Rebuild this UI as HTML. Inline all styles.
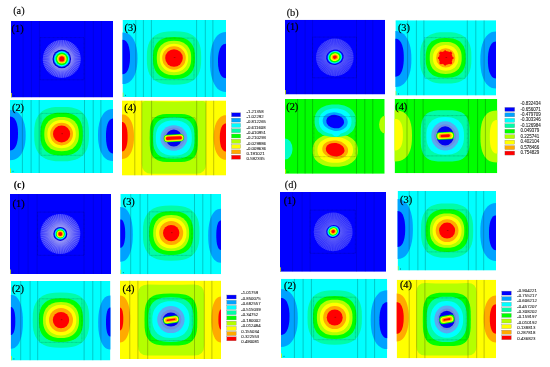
<!DOCTYPE html>
<html><head><meta charset="utf-8"><title>figure</title>
<style>html,body{margin:0;padding:0;background:#fff;}svg{display:block}</style></head>
<body><svg width="550" height="367" viewBox="0 0 550 367">
<defs><filter id="bl" x="-2%" y="-2%" width="104%" height="104%"><feGaussianBlur stdDeviation="0.45"/></filter><filter id="bl2" x="-2%" y="-2%" width="104%" height="104%"><feGaussianBlur stdDeviation="0.2"/></filter>
<clipPath id="c1"><rect x="11" y="21" width="102.00" height="76.50"/></clipPath>
<radialGradient id="g2" gradientUnits="userSpaceOnUse" cx="61.8" cy="58.9" r="19"><stop offset="0.49" stop-color="#7878ee"/><stop offset="0.7" stop-color="#4848f8"/><stop offset="1" stop-color="#2828fe"/></radialGradient>
<clipPath id="c3"><rect x="122.5" y="20" width="103.50" height="77.00"/></clipPath>
<clipPath id="c4"><rect x="10" y="100" width="103.00" height="73.00"/></clipPath>
<clipPath id="c5"><rect x="122" y="100.4" width="104.00" height="75.20"/></clipPath>
<clipPath id="c6"><rect x="285" y="19.8" width="100.00" height="74.70"/></clipPath>
<radialGradient id="g7" gradientUnits="userSpaceOnUse" cx="334.8" cy="57.4" r="18.8"><stop offset="0.40" stop-color="#4141f7"/><stop offset="0.7" stop-color="#3333fa"/><stop offset="1" stop-color="#2929fc"/></radialGradient>
<clipPath id="c8"><rect x="395.4" y="20.2" width="100.60" height="75.40"/></clipPath>
<clipPath id="c9"><rect x="285" y="99" width="99.70" height="74.80"/></clipPath>
<clipPath id="c10"><rect x="394.6" y="99" width="102.70" height="74.20"/></clipPath>
<clipPath id="c11"><rect x="10" y="194" width="101.00" height="80.00"/></clipPath>
<radialGradient id="g12" gradientUnits="userSpaceOnUse" cx="60.3" cy="233.9" r="20"><stop offset="0.35" stop-color="#7878ee"/><stop offset="0.7" stop-color="#4848f8"/><stop offset="1" stop-color="#2828fe"/></radialGradient>
<clipPath id="c13"><rect x="120.3" y="194" width="100.70" height="80.20"/></clipPath>
<clipPath id="c14"><rect x="10.9" y="281" width="99.50" height="79.50"/></clipPath>
<clipPath id="c15"><rect x="120" y="280.6" width="101.00" height="78.40"/></clipPath>
<clipPath id="c16"><rect x="280" y="192" width="106.00" height="79.80"/></clipPath>
<radialGradient id="g17" gradientUnits="userSpaceOnUse" cx="333.2" cy="231.9" r="19.4"><stop offset="0.33" stop-color="#3f3ff8"/><stop offset="0.7" stop-color="#3232fa"/><stop offset="1" stop-color="#2929fc"/></radialGradient>
<clipPath id="c18"><rect x="397.6" y="191" width="98.40" height="79.60"/></clipPath>
<clipPath id="c19"><rect x="281" y="278.8" width="106.20" height="79.20"/></clipPath>
<clipPath id="c20"><rect x="396.7" y="279.7" width="99.30" height="78.60"/></clipPath></defs>
<rect width="550" height="367" fill="#fff"/>
<g filter="url(#bl)">
<text x="13.20" y="14.00" font-size="10.3" font-weight="normal" font-family="'Liberation Serif',serif" fill="#000" stroke="#000" stroke-width="0.12">(a)</text>
<g clip-path="url(#c1)">
<rect x="11" y="21" width="102.00" height="76.50" fill="#0000ff"/>
<path d="M23.10 21V97.5 M31.40 21V97.5 M39.40 21V97.5 M84.80 21V97.5 M93.30 21V97.5 M101.40 21V97.5" stroke="#000070" stroke-width="0.5" stroke-opacity="0.4" fill="none"/>
<rect x="40.10" y="37.60" width="43.90" height="42.20" fill="none" stroke="#000050" stroke-width="0.5" stroke-opacity="0.6" stroke-dasharray="0.8 0.5"/>
<circle cx="61.8" cy="58.9" r="19" fill="url(#g2)"/>
<path d="M69.24 58.90L80.80 58.90M69.20 59.63L80.71 60.76M69.10 60.35L80.43 62.61M68.92 61.06L79.98 64.42M68.67 61.75L79.35 66.17M68.36 62.41L78.56 67.86M67.99 63.03L77.60 69.46M67.55 63.62L76.49 70.95M67.06 64.16L75.24 72.34M66.52 64.65L73.85 73.59M65.93 65.09L72.36 74.70M65.31 65.46L70.76 75.66M64.65 65.77L69.07 76.45M63.96 66.02L67.32 77.08M63.25 66.20L65.51 77.53M62.53 66.30L63.66 77.81M61.80 66.34L61.80 77.90M61.07 66.30L59.94 77.81M60.35 66.20L58.09 77.53M59.64 66.02L56.28 77.08M58.95 65.77L54.53 76.45M58.29 65.46L52.84 75.66M57.67 65.09L51.24 74.70M57.08 64.65L49.75 73.59M56.54 64.16L48.36 72.34M56.05 63.62L47.11 70.95M55.61 63.03L46.00 69.46M55.24 62.41L45.04 67.86M54.93 61.75L44.25 66.17M54.68 61.06L43.62 64.42M54.50 60.35L43.17 62.61M54.40 59.63L42.89 60.76M54.36 58.90L42.80 58.90M54.40 58.17L42.89 57.04M54.50 57.45L43.17 55.19M54.68 56.74L43.62 53.38M54.93 56.05L44.25 51.63M55.24 55.39L45.04 49.94M55.61 54.77L46.00 48.34M56.05 54.18L47.11 46.85M56.54 53.64L48.36 45.46M57.08 53.15L49.75 44.21M57.67 52.71L51.24 43.10M58.29 52.34L52.84 42.14M58.95 52.03L54.53 41.35M59.64 51.78L56.28 40.72M60.35 51.60L58.09 40.27M61.07 51.50L59.94 39.99M61.80 51.46L61.80 39.90M62.53 51.50L63.66 39.99M63.25 51.60L65.51 40.27M63.96 51.78L67.32 40.72M64.65 52.03L69.07 41.35M65.31 52.34L70.76 42.14M65.93 52.71L72.36 43.10M66.52 53.15L73.85 44.21M67.06 53.64L75.24 45.46M67.55 54.18L76.49 46.85M67.99 54.77L77.60 48.34M68.36 55.39L78.56 49.94M68.67 56.05L79.35 51.63M68.92 56.74L79.98 53.38M69.10 57.45L80.43 55.19M69.20 58.17L80.71 57.04" stroke="#dcdcff" stroke-width="0.4" stroke-opacity="0.65" fill="none"/>
<ellipse cx="61.80" cy="58.90" rx="9.30" ry="9.30" fill="#0000d8" />
<ellipse cx="61.80" cy="58.90" rx="8.00" ry="8.00" fill="#00a2ff" />
<ellipse cx="61.80" cy="58.90" rx="7.30" ry="7.30" fill="#00ffff" />
<ellipse cx="61.80" cy="58.90" rx="6.30" ry="6.30" fill="#00ff00" />
<ellipse cx="61.80" cy="58.90" rx="4.70" ry="4.70" fill="#ffff00" />
<ellipse cx="61.80" cy="58.90" rx="3.60" ry="3.60" fill="#ffaa00" />
<ellipse cx="61.80" cy="58.90" rx="2.60" ry="2.60" fill="#ff0000" />
<rect x="11" y="93.00" width="0.9" height="4.5" fill="#d8f000" opacity="0.85"/>
<rect x="13.60" y="95.30" width="0.8" height="1.2" fill="#002040" opacity="0.6"/>
</g>
<text x="11.60" y="31.50" font-size="10.3" font-weight="normal" font-family="'Liberation Serif',serif" fill="#000" stroke="#000" stroke-width="0.2">(1)</text>
<g clip-path="url(#c3)">
<rect x="122.5" y="20" width="103.50" height="77.00" fill="#00ffff"/>
<polygon points="201.20,58.00 201.03,64.07 200.52,67.99 199.68,71.28 198.50,74.13 196.99,76.61 195.14,78.75 192.96,80.56 190.43,82.05 187.53,83.21 184.18,84.04 180.19,84.53 174.00,84.70 167.81,84.53 163.82,84.04 160.47,83.21 157.57,82.05 155.04,80.56 152.86,78.75 151.01,76.61 149.50,74.13 148.32,71.28 147.48,67.99 146.97,64.07 146.80,58.00 146.97,51.93 147.48,48.01 148.32,44.72 149.50,41.87 151.01,39.39 152.86,37.25 155.04,35.44 157.57,33.95 160.47,32.79 163.82,31.96 167.81,31.47 174.00,31.30 180.19,31.47 184.18,31.96 187.53,32.79 190.43,33.95 192.96,35.44 195.14,37.25 196.99,39.39 198.50,41.87 199.68,44.72 200.52,48.01 201.03,51.93" fill="#00fca8" />
<polygon points="195.00,58.00 194.86,62.39 194.45,65.42 193.76,68.03 192.80,70.32 191.57,72.34 190.09,74.09 188.34,75.57 186.32,76.80 184.03,77.76 181.42,78.45 178.39,78.86 174.00,79.00 169.61,78.86 166.58,78.45 163.97,77.76 161.68,76.80 159.66,75.57 157.91,74.09 156.43,72.34 155.20,70.32 154.24,68.03 153.55,65.42 153.14,62.39 153.00,58.00 153.14,53.61 153.55,50.58 154.24,47.97 155.20,45.68 156.43,43.66 157.91,41.91 159.66,40.43 161.68,39.20 163.97,38.24 166.58,37.55 169.61,37.14 174.00,37.00 178.39,37.14 181.42,37.55 184.03,38.24 186.32,39.20 188.34,40.43 190.09,41.91 191.57,43.66 192.80,45.68 193.76,47.97 194.45,50.58 194.86,53.61" fill="#00ff00" />
<polygon points="191.20,58.00 191.07,61.04 190.70,63.44 190.08,65.59 189.22,67.54 188.12,69.27 186.81,70.81 185.27,72.12 183.54,73.22 181.59,74.08 179.44,74.70 177.04,75.07 174.00,75.20 170.96,75.07 168.56,74.70 166.41,74.08 164.46,73.22 162.73,72.12 161.19,70.81 159.88,69.27 158.78,67.54 157.92,65.59 157.30,63.44 156.93,61.04 156.80,58.00 156.93,54.96 157.30,52.56 157.92,50.41 158.78,48.46 159.88,46.73 161.19,45.19 162.73,43.88 164.46,42.78 166.41,41.92 168.56,41.30 170.96,40.93 174.00,40.80 177.04,40.93 179.44,41.30 181.59,41.92 183.54,42.78 185.27,43.88 186.81,45.19 188.12,46.73 189.22,48.46 190.08,50.41 190.70,52.56 191.07,54.96" fill="#b4ff00" />
<polygon points="188.20,58.00 188.09,60.14 187.75,62.04 187.19,63.81 186.42,65.45 185.45,66.95 184.29,68.29 182.95,69.45 181.45,70.42 179.81,71.19 178.04,71.75 176.14,72.09 174.00,72.20 171.86,72.09 169.96,71.75 168.19,71.19 166.55,70.42 165.05,69.45 163.71,68.29 162.55,66.95 161.58,65.45 160.81,63.81 160.25,62.04 159.91,60.14 159.80,58.00 159.91,55.86 160.25,53.96 160.81,52.19 161.58,50.55 162.55,49.05 163.71,47.71 165.05,46.55 166.55,45.58 168.19,44.81 169.96,44.25 171.86,43.91 174.00,43.80 176.14,43.91 178.04,44.25 179.81,44.81 181.45,45.58 182.95,46.55 184.29,47.71 185.45,49.05 186.42,50.55 187.19,52.19 187.75,53.96 188.09,55.86" fill="#ffff00" />
<ellipse cx="174.00" cy="58.00" rx="11.80" ry="11.80" fill="#ffaa00" />
<ellipse cx="174.00" cy="58.00" rx="8.80" ry="8.80" fill="#ff0000" />
<polygon points="137.50,58.30 137.39,62.52 137.04,66.06 136.48,69.29 135.70,72.23 134.71,74.90 133.52,77.26 132.15,79.30 130.60,81.00 128.89,82.35 127.01,83.32 124.95,83.90 122.50,84.10 120.05,83.90 117.99,83.32 116.11,82.35 114.40,81.00 112.85,79.30 111.48,77.26 110.29,74.90 109.30,72.23 108.52,69.29 107.96,66.06 107.61,62.52 107.50,58.30 107.61,54.08 107.96,50.54 108.52,47.31 109.30,44.37 110.29,41.70 111.48,39.34 112.85,37.30 114.40,35.60 116.11,34.25 117.99,33.28 120.05,32.70 122.50,32.50 124.95,32.70 127.01,33.28 128.89,34.25 130.60,35.60 132.15,37.30 133.52,39.34 134.71,41.70 135.70,44.37 136.48,47.31 137.04,50.54 137.39,54.08" fill="#00a2ff" />
<polygon points="130.00,57.00 129.94,59.82 129.77,62.17 129.49,64.32 129.10,66.29 128.61,68.06 128.01,69.64 127.32,71.00 126.55,72.14 125.69,73.03 124.76,73.68 123.73,74.07 122.50,74.20 121.27,74.07 120.24,73.68 119.31,73.03 118.45,72.14 117.68,71.00 116.99,69.64 116.39,68.06 115.90,66.29 115.51,64.32 115.23,62.17 115.06,59.82 115.00,57.00 115.06,54.18 115.23,51.83 115.51,49.68 115.90,47.71 116.39,45.94 116.99,44.36 117.68,43.00 118.45,41.86 119.31,40.97 120.24,40.32 121.27,39.93 122.50,39.80 123.73,39.93 124.76,40.32 125.69,40.97 126.55,41.86 127.32,43.00 128.01,44.36 128.61,45.94 129.10,47.71 129.49,49.68 129.77,51.83 129.94,54.18" fill="#0000ff" />
<polygon points="242.00,62.00 241.88,66.91 241.51,71.02 240.91,74.77 240.08,78.20 239.02,81.30 237.76,84.05 236.29,86.42 234.64,88.40 232.81,89.96 230.81,91.09 228.62,91.77 226.00,92.00 223.38,91.77 221.19,91.09 219.19,89.96 217.36,88.40 215.71,86.42 214.24,84.05 212.98,81.30 211.92,78.20 211.09,74.77 210.49,71.02 210.12,66.91 210.00,62.00 210.12,57.09 210.49,52.98 211.09,49.23 211.92,45.80 212.98,42.70 214.24,39.95 215.71,37.58 217.36,35.60 219.19,34.04 221.19,32.91 223.38,32.23 226.00,32.00 228.62,32.23 230.81,32.91 232.81,34.04 234.64,35.60 236.29,37.58 237.76,39.95 239.02,42.70 240.08,45.80 240.91,49.23 241.51,52.98 241.88,57.09" fill="#00a2ff" />
<polygon points="234.00,61.00 233.94,63.82 233.76,66.17 233.46,68.32 233.04,70.29 232.51,72.06 231.88,73.64 231.15,75.00 230.32,76.14 229.41,77.03 228.41,77.68 227.31,78.07 226.00,78.20 224.69,78.07 223.59,77.68 222.59,77.03 221.68,76.14 220.85,75.00 220.12,73.64 219.49,72.06 218.96,70.29 218.54,68.32 218.24,66.17 218.06,63.82 218.00,61.00 218.06,58.18 218.24,55.83 218.54,53.68 218.96,51.71 219.49,49.94 220.12,48.36 220.85,47.00 221.68,45.86 222.59,44.97 223.59,44.32 224.69,43.93 226.00,43.80 227.31,43.93 228.41,44.32 229.41,44.97 230.32,45.86 231.15,47.00 231.88,48.36 232.51,49.94 233.04,51.71 233.46,53.68 233.76,55.83 233.94,58.18" fill="#0000ff" />
<path d="M135.80 20V97 M143.40 20V97 M151.40 20V97 M196.60 20V97 M205.30 20V97 M212.90 20V97" stroke="#004848" stroke-width="0.6" stroke-opacity="0.5" fill="none"/>
<rect x="153.20" y="38.10" width="40.80" height="41.60" fill="none" stroke="#003838" stroke-width="0.5" stroke-opacity="0.5" stroke-dasharray="0.8 0.5"/>
<rect x="173.80" y="57.40" width="1.6" height="0.6" fill="#500" opacity="0.7"/>
<rect x="122.5" y="92.50" width="0.9" height="4.5" fill="#d8f000" opacity="0.85"/>
<rect x="125.10" y="94.80" width="0.8" height="1.2" fill="#002040" opacity="0.6"/>
</g>
<text x="124.50" y="30.80" font-size="10.3" font-weight="normal" font-family="'Liberation Serif',serif" fill="#000" stroke="#000" stroke-width="0.2">(3)</text>
<g clip-path="url(#c4)">
<rect x="10" y="100" width="103.00" height="73.00" fill="#00ffff"/>
<polygon points="89.00,134.10 88.83,140.29 88.32,144.28 87.47,147.63 86.28,150.53 84.75,153.06 82.90,155.24 80.70,157.09 78.15,158.60 75.23,159.78 71.85,160.62 67.83,161.13 61.60,161.30 55.37,161.13 51.35,160.62 47.97,159.78 45.05,158.60 42.50,157.09 40.30,155.24 38.45,153.06 36.92,150.53 35.73,147.63 34.88,144.28 34.37,140.29 34.20,134.10 34.37,127.91 34.88,123.92 35.73,120.57 36.92,117.67 38.45,115.14 40.30,112.96 42.50,111.11 45.05,109.60 47.97,108.42 51.35,107.58 55.37,107.07 61.60,106.90 67.83,107.07 71.85,107.58 75.23,108.42 78.15,109.60 80.70,111.11 82.90,112.96 84.75,115.14 86.28,117.67 87.47,120.57 88.32,123.92 88.83,127.91" fill="#00fca8" />
<polygon points="82.80,134.10 82.66,138.57 82.24,141.67 81.55,144.32 80.58,146.66 79.34,148.71 77.84,150.49 76.07,152.01 74.04,153.26 71.73,154.24 69.10,154.94 66.03,155.36 61.60,155.50 57.17,155.36 54.10,154.94 51.47,154.24 49.16,153.26 47.13,152.01 45.36,150.49 43.86,148.71 42.62,146.66 41.65,144.32 40.96,141.67 40.54,138.57 40.40,134.10 40.54,129.63 40.96,126.53 41.65,123.88 42.62,121.54 43.86,119.49 45.36,117.71 47.13,116.19 49.16,114.94 51.47,113.96 54.10,113.26 57.17,112.84 61.60,112.70 66.03,112.84 69.10,113.26 71.73,113.96 74.04,114.94 76.07,116.19 77.84,117.71 79.34,119.49 80.58,121.54 81.55,123.88 82.24,126.53 82.66,129.63" fill="#00ff00" />
<polygon points="78.90,134.10 78.77,137.12 78.40,139.51 77.77,141.65 76.91,143.58 75.81,145.31 74.48,146.83 72.94,148.14 71.19,149.23 69.24,150.09 67.08,150.70 64.66,151.08 61.60,151.20 58.54,151.08 56.12,150.70 53.96,150.09 52.01,149.23 50.26,148.14 48.72,146.83 47.39,145.31 46.29,143.58 45.43,141.65 44.80,139.51 44.43,137.12 44.30,134.10 44.43,131.08 44.80,128.69 45.43,126.55 46.29,124.62 47.39,122.89 48.72,121.37 50.26,120.06 52.01,118.97 53.96,118.11 56.12,117.50 58.54,117.12 61.60,117.00 64.66,117.12 67.08,117.50 69.24,118.11 71.19,118.97 72.94,120.06 74.48,121.37 75.81,122.89 76.91,124.62 77.77,126.55 78.40,128.69 78.77,131.08" fill="#b4ff00" />
<polygon points="75.80,134.10 75.69,136.22 75.35,138.11 74.79,139.87 74.02,141.50 73.05,142.99 71.89,144.31 70.55,145.47 69.05,146.43 67.41,147.20 65.64,147.75 63.74,148.09 61.60,148.20 59.46,148.09 57.56,147.75 55.79,147.20 54.15,146.43 52.65,145.47 51.31,144.31 50.15,142.99 49.18,141.50 48.41,139.87 47.85,138.11 47.51,136.22 47.40,134.10 47.51,131.98 47.85,130.09 48.41,128.33 49.18,126.70 50.15,125.21 51.31,123.89 52.65,122.73 54.15,121.77 55.79,121.00 57.56,120.45 59.46,120.11 61.60,120.00 63.74,120.11 65.64,120.45 67.41,121.00 69.05,121.77 70.55,122.73 71.89,123.89 73.05,125.21 74.02,126.70 74.79,128.33 75.35,130.09 75.69,131.98" fill="#ffff00" />
<ellipse cx="61.60" cy="134.10" rx="11.40" ry="11.30" fill="#ffaa00" />
<ellipse cx="61.60" cy="134.10" rx="8.60" ry="8.50" fill="#ff0000" />
<polygon points="25.70,135.20 25.58,139.31 25.22,142.75 24.63,145.89 23.82,148.75 22.78,151.35 21.54,153.65 20.10,155.63 18.48,157.29 16.68,158.59 14.72,159.54 12.57,160.11 10.00,160.30 7.43,160.11 5.28,159.54 3.32,158.59 1.52,157.29 -0.10,155.63 -1.54,153.65 -2.78,151.35 -3.82,148.75 -4.63,145.89 -5.22,142.75 -5.58,139.31 -5.70,135.20 -5.58,131.09 -5.22,127.65 -4.63,124.51 -3.82,121.65 -2.78,119.05 -1.54,116.75 -0.10,114.77 1.52,113.11 3.32,111.81 5.28,110.86 7.43,110.29 10.00,110.10 12.57,110.29 14.72,110.86 16.68,111.81 18.48,113.11 20.10,114.77 21.54,116.75 22.78,119.05 23.82,121.65 24.63,124.51 25.22,127.65 25.58,131.09" fill="#00a2ff" />
<polygon points="18.00,133.50 17.94,136.28 17.76,138.61 17.46,140.74 17.04,142.68 16.51,144.44 15.88,145.99 15.15,147.34 14.32,148.46 13.41,149.34 12.41,149.98 11.31,150.37 10.00,150.50 8.69,150.37 7.59,149.98 6.59,149.34 5.68,148.46 4.85,147.34 4.12,145.99 3.49,144.44 2.96,142.68 2.54,140.74 2.24,138.61 2.06,136.28 2.00,133.50 2.06,130.72 2.24,128.39 2.54,126.26 2.96,124.32 3.49,122.56 4.12,121.01 4.85,119.66 5.68,118.54 6.59,117.66 7.59,117.02 8.69,116.63 10.00,116.50 11.31,116.63 12.41,117.02 13.41,117.66 14.32,118.54 15.15,119.66 15.88,121.01 16.51,122.56 17.04,124.32 17.46,126.26 17.76,128.39 17.94,130.72" fill="#0000ff" />
<polygon points="128.00,135.00 127.89,139.26 127.54,142.82 126.98,146.07 126.20,149.04 125.21,151.73 124.02,154.11 122.65,156.16 121.10,157.88 119.39,159.23 117.51,160.21 115.45,160.80 113.00,161.00 110.55,160.80 108.49,160.21 106.61,159.23 104.90,157.88 103.35,156.16 101.98,154.11 100.79,151.73 99.80,149.04 99.02,146.07 98.46,142.82 98.11,139.26 98.00,135.00 98.11,130.74 98.46,127.18 99.02,123.93 99.80,120.96 100.79,118.27 101.98,115.89 103.35,113.84 104.90,112.12 106.61,110.77 108.49,109.79 110.55,109.20 113.00,109.00 115.45,109.20 117.51,109.79 119.39,110.77 121.10,112.12 122.65,113.84 124.02,115.89 125.21,118.27 126.20,120.96 126.98,123.93 127.54,127.18 127.89,130.74" fill="#00a2ff" />
<polygon points="120.00,136.00 119.95,138.85 119.79,141.23 119.52,143.41 119.16,145.40 118.70,147.19 118.14,148.79 117.50,150.16 116.78,151.31 115.98,152.22 115.11,152.87 114.15,153.27 113.00,153.40 111.85,153.27 110.89,152.87 110.02,152.22 109.22,151.31 108.50,150.16 107.86,148.79 107.30,147.19 106.84,145.40 106.48,143.41 106.21,141.23 106.05,138.85 106.00,136.00 106.05,133.15 106.21,130.77 106.48,128.59 106.84,126.60 107.30,124.81 107.86,123.21 108.50,121.84 109.22,120.69 110.02,119.78 110.89,119.13 111.85,118.73 113.00,118.60 114.15,118.73 115.11,119.13 115.98,119.78 116.78,120.69 117.50,121.84 118.14,123.21 118.70,124.81 119.16,126.60 119.52,128.59 119.79,130.77 119.95,133.15" fill="#0000ff" />
<path d="M22.40 100V173 M31.10 100V173 M39.20 100V173 M84.50 100V173 M93.20 100V173 M100.90 100V173" stroke="#004848" stroke-width="0.6" stroke-opacity="0.5" fill="none"/>
<rect x="40.90" y="113.40" width="42.10" height="41.90" fill="none" stroke="#003838" stroke-width="0.5" stroke-opacity="0.5" stroke-dasharray="0.8 0.5"/>
<rect x="61.40" y="133.50" width="1.6" height="0.6" fill="#500" opacity="0.7"/>
<rect x="10" y="168.50" width="0.9" height="4.5" fill="#d8f000" opacity="0.85"/>
<rect x="12.60" y="170.80" width="0.8" height="1.2" fill="#002040" opacity="0.6"/>
</g>
<text x="12.00" y="110.60" font-size="10.3" font-weight="normal" font-family="'Liberation Serif',serif" fill="#000" stroke="#000" stroke-width="0.2">(2)</text>
<g clip-path="url(#c5)">
<rect x="122" y="100.4" width="104.00" height="75.20" fill="#ffff00"/>
<path d="M145.30 100.90Q173.90 102.50 202.50 100.90Q206.00 100.90 206.00 104.40L206.00 163.70Q206.00 173.70 196.00 173.70L151.80 173.70Q141.80 173.70 141.80 163.70L141.80 104.40Q141.80 100.90 145.30 100.90Z" fill="#b4ff00"/>
<polygon points="197.90,138.00 197.78,145.53 197.43,149.13 196.83,151.92 196.00,154.22 194.91,156.15 193.57,157.77 191.95,159.11 190.02,160.20 187.72,161.03 184.93,161.63 181.33,161.98 173.80,162.10 166.27,161.98 162.67,161.63 159.88,161.03 157.58,160.20 155.65,159.11 154.03,157.77 152.69,156.15 151.60,154.22 150.77,151.92 150.17,149.13 149.82,145.53 149.70,138.00 149.82,130.47 150.17,126.87 150.77,124.08 151.60,121.78 152.69,119.85 154.03,118.23 155.65,116.89 157.58,115.80 159.88,114.97 162.67,114.37 166.27,114.02 173.80,113.90 181.33,114.02 184.93,114.37 187.72,114.97 190.02,115.80 191.95,116.89 193.57,118.23 194.91,119.85 196.00,121.78 196.83,124.08 197.43,126.87 197.78,130.47" fill="#00ff00" />
<polygon points="194.60,138.00 194.47,142.83 194.09,145.88 193.46,148.42 192.57,150.62 191.43,152.52 190.04,154.16 188.39,155.55 186.48,156.68 184.27,157.56 181.72,158.19 178.66,158.57 173.80,158.70 168.94,158.57 165.88,158.19 163.33,157.56 161.12,156.68 159.21,155.55 157.56,154.16 156.17,152.52 155.03,150.62 154.14,148.42 153.51,145.88 153.13,142.83 153.00,138.00 153.13,133.17 153.51,130.12 154.14,127.58 155.03,125.38 156.17,123.48 157.56,121.84 159.21,120.45 161.12,119.32 163.33,118.44 165.88,117.81 168.94,117.43 173.80,117.30 178.66,117.43 181.72,117.81 184.27,118.44 186.48,119.32 188.39,120.45 190.04,121.84 191.43,123.48 192.57,125.38 193.46,127.58 194.09,130.12 194.47,133.17" fill="#00fca8" />
<polygon points="191.80,138.00 191.67,141.23 191.29,143.71 190.65,145.90 189.77,147.88 188.64,149.64 187.28,151.19 185.70,152.51 183.90,153.61 181.88,154.48 179.64,155.10 177.10,155.47 173.80,155.60 170.50,155.47 167.96,155.10 165.72,154.48 163.70,153.61 161.90,152.51 160.32,151.19 158.96,149.64 157.83,147.88 156.95,145.90 156.31,143.71 155.93,141.23 155.80,138.00 155.93,134.77 156.31,132.29 156.95,130.10 157.83,128.12 158.96,126.36 160.32,124.81 161.90,123.49 163.70,122.39 165.72,121.52 167.96,120.90 170.50,120.53 173.80,120.40 177.10,120.53 179.64,120.90 181.88,121.52 183.90,122.39 185.70,123.49 187.28,124.81 188.64,126.36 189.77,128.12 190.65,130.10 191.29,132.29 191.67,134.77" fill="#00ffff" />
<ellipse cx="173.80" cy="138.00" rx="13.50" ry="12.70" fill="#5aaaf0" />
<ellipse cx="173.80" cy="138.00" rx="11.00" ry="10.60" fill="#6e8ee0" />
<ellipse cx="173.80" cy="138.00" rx="8.20" ry="8.60" fill="#0000f0" />
<polygon points="134.00,136.70 133.91,140.20 133.63,143.23 133.17,146.01 132.53,148.58 131.72,150.90 130.76,152.97 129.64,154.77 128.39,156.27 127.01,157.45 125.51,158.31 123.88,158.83 122.00,159.00 120.12,158.83 118.49,158.31 116.99,157.45 115.61,156.27 114.36,154.77 113.24,152.97 112.28,150.90 111.47,148.58 110.83,146.01 110.37,143.23 110.09,140.20 110.00,136.70 110.09,133.20 110.37,130.17 110.83,127.39 111.47,124.82 112.28,122.50 113.24,120.43 114.36,118.63 115.61,117.13 116.99,115.95 118.49,115.09 120.12,114.57 122.00,114.40 123.88,114.57 125.51,115.09 127.01,115.95 128.39,117.13 129.64,118.63 130.76,120.43 131.72,122.50 132.53,124.82 133.17,127.39 133.63,130.17 133.91,133.20" fill="#ffaa00" />
<polygon points="127.60,136.70 127.56,139.01 127.43,141.00 127.21,142.84 126.91,144.53 126.54,146.06 126.09,147.43 125.57,148.61 124.98,149.60 124.34,150.38 123.64,150.94 122.88,151.29 122.00,151.40 121.12,151.29 120.36,150.94 119.66,150.38 119.02,149.60 118.43,148.61 117.91,147.43 117.46,146.06 117.09,144.53 116.79,142.84 116.57,141.00 116.44,139.01 116.40,136.70 116.44,134.39 116.57,132.40 116.79,130.56 117.09,128.87 117.46,127.34 117.91,125.97 118.43,124.79 119.02,123.80 119.66,123.02 120.36,122.46 121.12,122.11 122.00,122.00 122.88,122.11 123.64,122.46 124.34,123.02 124.98,123.80 125.57,124.79 126.09,125.97 126.54,127.34 126.91,128.87 127.21,130.56 127.43,132.40 127.56,134.39" fill="#ff0000" />
<polygon points="238.30,137.50 238.20,141.00 237.92,144.03 237.45,146.81 236.79,149.38 235.97,151.70 234.98,153.77 233.83,155.57 232.55,157.07 231.14,158.25 229.60,159.11 227.93,159.63 226.00,159.80 224.07,159.63 222.40,159.11 220.86,158.25 219.45,157.07 218.17,155.57 217.02,153.77 216.03,151.70 215.21,149.38 214.55,146.81 214.08,144.03 213.80,141.00 213.70,137.50 213.80,134.00 214.08,130.97 214.55,128.19 215.21,125.62 216.03,123.30 217.02,121.23 218.17,119.43 219.45,117.93 220.86,116.75 222.40,115.89 224.07,115.37 226.00,115.20 227.93,115.37 229.60,115.89 231.14,116.75 232.55,117.93 233.83,119.43 234.98,121.23 235.97,123.30 236.79,125.62 237.45,128.19 237.92,130.97 238.20,134.00" fill="#ffaa00" />
<polygon points="232.20,137.50 232.15,139.70 232.01,141.60 231.77,143.35 231.44,144.96 231.02,146.42 230.52,147.72 229.95,148.84 229.30,149.78 228.59,150.53 227.81,151.07 226.97,151.39 226.00,151.50 225.03,151.39 224.19,151.07 223.41,150.53 222.70,149.78 222.05,148.84 221.48,147.72 220.98,146.42 220.56,144.96 220.23,143.35 219.99,141.60 219.85,139.70 219.80,137.50 219.85,135.30 219.99,133.40 220.23,131.65 220.56,130.04 220.98,128.58 221.48,127.28 222.05,126.16 222.70,125.22 223.41,124.47 224.19,123.93 225.03,123.61 226.00,123.50 226.97,123.61 227.81,123.93 228.59,124.47 229.30,125.22 229.95,126.16 230.52,127.28 231.02,128.58 231.44,130.04 231.77,131.65 232.01,133.40 232.15,135.30" fill="#ff0000" />
<path d="M134.80 100.4V175.6 M141.80 100.4V175.6 M151.60 100.4V175.6 M196.70 100.4V175.6 M206.00 100.4V175.6 M213.70 100.4V175.6" stroke="#3a3a00" stroke-width="0.6" stroke-opacity="0.5" fill="none"/>
<rect x="152.70" y="117.60" width="42.50" height="40.30" fill="none" stroke="#303000" stroke-width="0.5" stroke-opacity="0.55" stroke-dasharray="0.8 0.5"/>
<rect x="163.70" y="134.40" width="20.40" height="7.40" rx="3.70" fill="#00ff00" transform="rotate(-3 173.9 138.1)"/>
<rect x="164.50" y="135.10" width="18.80" height="6.00" rx="3.00" fill="#ffff00" transform="rotate(-3 173.9 138.1)"/>
<rect x="165.20" y="135.80" width="17.40" height="4.60" rx="2.30" fill="#ffaa00" transform="rotate(-3 173.9 138.1)"/>
<rect x="165.95" y="136.50" width="15.90" height="3.20" rx="1.60" fill="#ff0000" transform="rotate(-3 173.9 138.1)"/>
</g>
<text x="124.30" y="111.40" font-size="10.3" font-weight="normal" font-family="'Liberation Serif',serif" fill="#000" stroke="#000" stroke-width="0.2">(4)</text>
<rect x="231.5" y="112.80" width="9.10" height="4.0" fill="#0000ff" stroke="#808080" stroke-width="0.3"/>
<rect x="231.5" y="118.10" width="9.10" height="4.0" fill="#00a2ff" stroke="#808080" stroke-width="0.3"/>
<rect x="231.5" y="123.40" width="9.10" height="4.0" fill="#00ffff" stroke="#808080" stroke-width="0.3"/>
<rect x="231.5" y="128.70" width="9.10" height="4.0" fill="#00fca8" stroke="#808080" stroke-width="0.3"/>
<rect x="231.5" y="134.00" width="9.10" height="4.0" fill="#00ff00" stroke="#808080" stroke-width="0.3"/>
<rect x="231.5" y="139.30" width="9.10" height="4.0" fill="#b4ff00" stroke="#808080" stroke-width="0.3"/>
<rect x="231.5" y="144.60" width="9.10" height="4.0" fill="#ffff00" stroke="#808080" stroke-width="0.3"/>
<rect x="231.5" y="149.90" width="9.10" height="4.0" fill="#ffaa00" stroke="#808080" stroke-width="0.3"/>
<rect x="231.5" y="155.20" width="9.10" height="4.0" fill="#ff0000" stroke="#808080" stroke-width="0.3"/>
<text x="286.70" y="15.70" font-size="10.3" font-weight="normal" font-family="'Liberation Serif',serif" fill="#000" stroke="#000" stroke-width="0.12">(b)</text>
<g clip-path="url(#c6)">
<rect x="285" y="19.8" width="100.00" height="74.70" fill="#0000ff"/>
<path d="M296.30 19.8V94.5 M305.10 19.8V94.5 M312.60 19.8V94.5 M356.50 19.8V94.5 M365.30 19.8V94.5 M372.80 19.8V94.5" stroke="#000070" stroke-width="0.5" stroke-opacity="0.4" fill="none"/>
<rect x="312.60" y="37.10" width="43.90" height="40.70" fill="none" stroke="#000050" stroke-width="0.5" stroke-opacity="0.6" stroke-dasharray="0.8 0.5"/>
<circle cx="334.8" cy="57.4" r="18.8" fill="url(#g7)"/>
<path d="M340.88 57.40L353.60 57.40M340.85 58.00L353.51 59.24M340.76 58.59L353.24 61.07M340.62 59.16L352.79 62.86M340.42 59.73L352.17 64.59M340.16 60.27L351.38 66.26M339.86 60.78L350.43 67.84M339.50 61.26L349.33 69.33M339.10 61.70L348.09 70.69M338.66 62.10L346.73 71.93M338.18 62.46L345.24 73.03M337.67 62.76L343.66 73.98M337.13 63.02L341.99 74.77M336.56 63.22L340.26 75.39M335.99 63.36L338.47 75.84M335.40 63.45L336.64 76.11M334.80 63.48L334.80 76.20M334.20 63.45L332.96 76.11M333.61 63.36L331.13 75.84M333.04 63.22L329.34 75.39M332.47 63.02L327.61 74.77M331.93 62.76L325.94 73.98M331.42 62.46L324.36 73.03M330.94 62.10L322.87 71.93M330.50 61.70L321.51 70.69M330.10 61.26L320.27 69.33M329.74 60.78L319.17 67.84M329.44 60.27L318.22 66.26M329.18 59.73L317.43 64.59M328.98 59.16L316.81 62.86M328.84 58.59L316.36 61.07M328.75 58.00L316.09 59.24M328.72 57.40L316.00 57.40M328.75 56.80L316.09 55.56M328.84 56.21L316.36 53.73M328.98 55.64L316.81 51.94M329.18 55.07L317.43 50.21M329.44 54.53L318.22 48.54M329.74 54.02L319.17 46.96M330.10 53.54L320.27 45.47M330.50 53.10L321.51 44.11M330.94 52.70L322.87 42.87M331.42 52.34L324.36 41.77M331.93 52.04L325.94 40.82M332.47 51.78L327.61 40.03M333.04 51.58L329.34 39.41M333.61 51.44L331.13 38.96M334.20 51.35L332.96 38.69M334.80 51.32L334.80 38.60M335.40 51.35L336.64 38.69M335.99 51.44L338.47 38.96M336.56 51.58L340.26 39.41M337.13 51.78L341.99 40.03M337.67 52.04L343.66 40.82M338.18 52.34L345.24 41.77M338.66 52.70L346.73 42.87M339.10 53.10L348.09 44.11M339.50 53.54L349.33 45.47M339.86 54.02L350.43 46.96M340.16 54.53L351.38 48.54M340.42 55.07L352.17 50.21M340.62 55.64L352.79 51.94M340.76 56.21L353.24 53.73M340.85 56.80L353.51 55.56" stroke="#dcdcff" stroke-width="0.4" stroke-opacity="0.37" fill="none"/>
<ellipse cx="334.90" cy="57.20" rx="8.89" ry="7.60" transform="rotate(-12 334.90 57.20)" fill="#0000f4" />
<ellipse cx="334.90" cy="57.20" rx="7.49" ry="6.40" transform="rotate(-12 334.90 57.20)" fill="#00a2ff" />
<ellipse cx="334.90" cy="57.20" rx="6.90" ry="5.90" transform="rotate(-12 334.90 57.20)" fill="#00ffff" />
<ellipse cx="334.90" cy="57.20" rx="6.08" ry="5.20" transform="rotate(-12 334.90 57.20)" fill="#00ff00" />
<ellipse cx="334.90" cy="57.20" rx="4.45" ry="3.80" transform="rotate(-12 334.90 57.20)" fill="#ffff00" />
<ellipse cx="334.90" cy="57.20" rx="3.16" ry="2.70" transform="rotate(-12 334.90 57.20)" fill="#ffaa00" />
<ellipse cx="334.90" cy="57.20" rx="1.99" ry="1.70" transform="rotate(-12 334.90 57.20)" fill="#ff0000" />
<rect x="285" y="90.00" width="0.9" height="4.5" fill="#d8f000" opacity="0.85"/>
<rect x="287.60" y="92.30" width="0.8" height="1.2" fill="#002040" opacity="0.6"/>
</g>
<text x="286.50" y="30.30" font-size="10.3" font-weight="normal" font-family="'Liberation Serif',serif" fill="#000" stroke="#000" stroke-width="0.2">(1)</text>
<g clip-path="url(#c8)">
<rect x="395.4" y="20.2" width="100.60" height="75.40" fill="#00ffff"/>
<polygon points="471.40,57.90 471.24,63.75 470.76,67.52 469.96,70.68 468.85,73.42 467.42,75.81 465.67,77.87 463.61,79.62 461.22,81.05 458.48,82.16 455.32,82.96 451.55,83.44 445.70,83.60 439.85,83.44 436.08,82.96 432.92,82.16 430.18,81.05 427.79,79.62 425.73,77.87 423.98,75.81 422.55,73.42 421.44,70.68 420.64,67.52 420.16,63.75 420.00,57.90 420.16,52.05 420.64,48.28 421.44,45.12 422.55,42.38 423.98,39.99 425.73,37.93 427.79,36.18 430.18,34.75 432.92,33.64 436.08,32.84 439.85,32.36 445.70,32.20 451.55,32.36 455.32,32.84 458.48,33.64 461.22,34.75 463.61,36.18 465.67,37.93 467.42,39.99 468.85,42.38 469.96,45.12 470.76,48.28 471.24,52.05" fill="#00fca8" />
<polygon points="465.70,57.90 465.57,62.03 465.17,64.90 464.52,67.36 463.61,69.52 462.44,71.42 461.02,73.07 459.35,74.47 457.43,75.63 455.25,76.53 452.77,77.18 449.88,77.57 445.70,77.70 441.52,77.57 438.63,77.18 436.15,76.53 433.97,75.63 432.05,74.47 430.38,73.07 428.96,71.42 427.79,69.52 426.88,67.36 426.23,64.90 425.83,62.03 425.70,57.90 425.83,53.77 426.23,50.90 426.88,48.44 427.79,46.28 428.96,44.38 430.38,42.73 432.05,41.33 433.97,40.17 436.15,39.27 438.63,38.62 441.52,38.23 445.70,38.10 449.88,38.23 452.77,38.62 455.25,39.27 457.43,40.17 459.35,41.33 461.02,42.73 462.44,44.38 463.61,46.28 464.52,48.44 465.17,50.90 465.57,53.77" fill="#00ff00" />
<polygon points="461.70,57.90 461.58,60.73 461.23,62.96 460.66,64.96 459.86,66.77 458.84,68.39 457.61,69.81 456.19,71.04 454.57,72.06 452.76,72.86 450.76,73.43 448.53,73.78 445.70,73.90 442.87,73.78 440.64,73.43 438.64,72.86 436.83,72.06 435.21,71.04 433.79,69.81 432.56,68.39 431.54,66.77 430.74,64.96 430.17,62.96 429.82,60.73 429.70,57.90 429.82,55.07 430.17,52.84 430.74,50.84 431.54,49.03 432.56,47.41 433.79,45.99 435.21,44.76 436.83,43.74 438.64,42.94 440.64,42.37 442.87,42.02 445.70,41.90 448.53,42.02 450.76,42.37 452.76,42.94 454.57,43.74 456.19,44.76 457.61,45.99 458.84,47.41 459.86,49.03 460.66,50.84 461.23,52.84 461.58,55.07" fill="#b4ff00" />
<polygon points="458.50,57.90 458.40,59.83 458.09,61.54 457.59,63.14 456.90,64.62 456.02,65.97 454.97,67.17 453.77,68.22 452.42,69.10 450.94,69.79 449.34,70.29 447.63,70.60 445.70,70.70 443.77,70.60 442.06,70.29 440.46,69.79 438.98,69.10 437.63,68.22 436.43,67.17 435.38,65.97 434.50,64.62 433.81,63.14 433.31,61.54 433.00,59.83 432.90,57.90 433.00,55.97 433.31,54.26 433.81,52.66 434.50,51.18 435.38,49.83 436.43,48.63 437.63,47.58 438.98,46.70 440.46,46.01 442.06,45.51 443.77,45.20 445.70,45.10 447.63,45.20 449.34,45.51 450.94,46.01 452.42,46.70 453.77,47.58 454.97,48.63 456.02,49.83 456.90,51.18 457.59,52.66 458.09,54.26 458.40,55.97" fill="#ffff00" />
<ellipse cx="445.70" cy="57.90" rx="9.60" ry="9.60" fill="#ffaa00" />
<ellipse cx="445.70" cy="57.90" rx="7.00" ry="7.00" fill="#ff0000" />
<polygon points="411.40,59.00 411.28,63.58 410.91,67.42 410.31,70.92 409.48,74.12 408.42,77.01 407.16,79.58 405.69,81.79 404.04,83.64 402.21,85.10 400.21,86.15 398.02,86.79 395.40,87.00 392.78,86.79 390.59,86.15 388.59,85.10 386.76,83.64 385.11,81.79 383.64,79.58 382.38,77.01 381.32,74.12 380.49,70.92 379.89,67.42 379.52,63.58 379.40,59.00 379.52,54.42 379.89,50.58 380.49,47.08 381.32,43.88 382.38,40.99 383.64,38.42 385.11,36.21 386.76,34.36 388.59,32.90 390.59,31.85 392.78,31.21 395.40,31.00 398.02,31.21 400.21,31.85 402.21,32.90 404.04,34.36 405.69,36.21 407.16,38.42 408.42,40.99 409.48,43.88 410.31,47.08 410.91,50.58 411.28,54.42" fill="#00a2ff" />
<polygon points="403.80,57.70 403.74,60.81 403.55,63.41 403.23,65.79 402.79,67.96 402.24,69.92 401.57,71.66 400.80,73.17 399.94,74.42 398.98,75.41 397.93,76.12 396.77,76.56 395.40,76.70 394.03,76.56 392.87,76.12 391.82,75.41 390.86,74.42 390.00,73.17 389.23,71.66 388.56,69.92 388.01,67.96 387.57,65.79 387.25,63.41 387.06,60.81 387.00,57.70 387.06,54.59 387.25,51.99 387.57,49.61 388.01,47.44 388.56,45.48 389.23,43.74 390.00,42.23 390.86,40.98 391.82,39.99 392.87,39.28 394.03,38.84 395.40,38.70 396.77,38.84 397.93,39.28 398.98,39.99 399.94,40.98 400.80,42.23 401.57,43.74 402.24,45.48 402.79,47.44 403.23,49.61 403.55,51.99 403.74,54.59" fill="#0000ff" />
<polygon points="511.70,60.00 511.58,64.66 511.22,68.57 510.63,72.13 509.82,75.39 508.78,78.33 507.54,80.94 506.10,83.20 504.48,85.08 502.68,86.56 500.72,87.64 498.57,88.28 496.00,88.50 493.43,88.28 491.28,87.64 489.32,86.56 487.52,85.08 485.90,83.20 484.46,80.94 483.22,78.33 482.18,75.39 481.37,72.13 480.78,68.57 480.42,64.66 480.30,60.00 480.42,55.34 480.78,51.43 481.37,47.87 482.18,44.61 483.22,41.67 484.46,39.06 485.90,36.80 487.52,34.92 489.32,33.44 491.28,32.36 493.43,31.72 496.00,31.50 498.57,31.72 500.72,32.36 502.68,33.44 504.48,34.92 506.10,36.80 507.54,39.06 508.78,41.67 509.82,44.61 510.63,47.87 511.22,51.43 511.58,55.34" fill="#00a2ff" />
<polygon points="504.10,60.00 504.04,63.03 503.85,65.56 503.55,67.88 503.13,69.99 502.59,71.90 501.95,73.60 501.21,75.06 500.37,76.28 499.45,77.24 498.44,77.94 497.33,78.36 496.00,78.50 494.67,78.36 493.56,77.94 492.55,77.24 491.63,76.28 490.79,75.06 490.05,73.60 489.41,71.90 488.87,69.99 488.45,67.88 488.15,65.56 487.96,63.03 487.90,60.00 487.96,56.97 488.15,54.44 488.45,52.12 488.87,50.01 489.41,48.10 490.05,46.40 490.79,44.94 491.63,43.72 492.55,42.76 493.56,42.06 494.67,41.64 496.00,41.50 497.33,41.64 498.44,42.06 499.45,42.76 500.37,43.72 501.21,44.94 501.95,46.40 502.59,48.10 503.13,50.01 503.55,52.12 503.85,54.44 504.04,56.97" fill="#0000ff" />
<circle cx="450.44" cy="62.64" r="1.7" fill="#ff0000"/>
<circle cx="440.96" cy="62.64" r="1.6" fill="#ff0000"/>
<circle cx="440.96" cy="53.16" r="1.7" fill="#ff0000"/>
<circle cx="450.44" cy="53.16" r="1.6" fill="#ff0000"/>
<circle cx="452.40" cy="57.90" r="1.2" fill="#ff0000"/>
<circle cx="445.12" cy="64.57" r="1.1" fill="#ff0000"/>
<circle cx="439.00" cy="57.90" r="1.2" fill="#ff0000"/>
<circle cx="445.12" cy="51.23" r="1.0" fill="#ff0000"/>
<path d="M407.60 20.2V95.6 M416.40 20.2V95.6 M423.90 20.2V95.6 M467.30 20.2V95.6 M475.80 20.2V95.6 M484.10 20.2V95.6" stroke="#004848" stroke-width="0.6" stroke-opacity="0.5" fill="none"/>
<rect x="424.60" y="37.60" width="40.70" height="40.70" fill="none" stroke="#003838" stroke-width="0.5" stroke-opacity="0.5" stroke-dasharray="0.8 0.5"/>
<rect x="445.50" y="57.30" width="1.6" height="0.6" fill="#500" opacity="0.7"/>
<rect x="395.4" y="91.10" width="0.9" height="4.5" fill="#d8f000" opacity="0.85"/>
<rect x="398.00" y="93.40" width="0.8" height="1.2" fill="#002040" opacity="0.6"/>
</g>
<text x="397.90" y="31.00" font-size="10.3" font-weight="normal" font-family="'Liberation Serif',serif" fill="#000" stroke="#000" stroke-width="0.2">(3)</text>
<g clip-path="url(#c9)">
<rect x="285" y="99" width="99.70" height="74.80" fill="#00ff00"/>
<polygon points="357.80,150.50 357.63,153.27 357.13,155.53 356.30,157.57 355.14,159.42 353.68,161.09 351.92,162.56 349.88,163.83 347.57,164.88 345.00,165.72 342.18,166.32 339.05,166.68 335.20,166.80 331.35,166.68 328.22,166.32 325.40,165.72 322.83,164.88 320.52,163.83 318.48,162.56 316.72,161.09 315.26,159.42 314.10,157.57 313.27,155.53 312.77,153.27 312.60,150.50 312.77,147.73 313.27,145.47 314.10,143.43 315.26,141.58 316.72,139.91 318.48,138.44 320.52,137.17 322.83,136.12 325.40,135.28 328.22,134.68 331.35,134.32 335.20,134.20 339.05,134.32 342.18,134.68 345.00,135.28 347.57,136.12 349.88,137.17 351.92,138.44 353.68,139.91 355.14,141.58 356.30,143.43 357.13,145.47 357.63,147.73" fill="#b4ff00" />
<polygon points="353.00,150.00 352.86,152.01 352.45,153.75 351.76,155.35 350.82,156.82 349.62,158.15 348.19,159.34 346.54,160.37 344.68,161.23 342.63,161.91 340.41,162.40 338.00,162.70 335.20,162.80 332.40,162.70 329.99,162.40 327.77,161.91 325.72,161.23 323.86,160.37 322.21,159.34 320.78,158.15 319.58,156.82 318.64,155.35 317.95,153.75 317.54,152.01 317.40,150.00 317.54,147.99 317.95,146.25 318.64,144.65 319.58,143.18 320.78,141.85 322.21,140.66 323.86,139.63 325.72,138.77 327.77,138.09 329.99,137.60 332.40,137.30 335.20,137.20 338.00,137.30 340.41,137.60 342.63,138.09 344.68,138.77 346.54,139.63 348.19,140.66 349.62,141.85 350.82,143.18 351.76,144.65 352.45,146.25 352.86,147.99" fill="#ffff00" />
<ellipse cx="335.20" cy="149.70" rx="13.00" ry="9.20" transform="rotate(8 335.20 149.70)" fill="#ffaa00" />
<ellipse cx="335.20" cy="149.70" rx="9.50" ry="6.70" transform="rotate(8 335.20 149.70)" fill="#ff0000" />
<polygon points="355.90,120.80 355.75,123.57 355.29,125.83 354.52,127.87 353.47,129.72 352.13,131.39 350.51,132.86 348.64,134.13 346.53,135.18 344.18,136.02 341.59,136.62 338.72,136.98 335.20,137.10 331.68,136.98 328.81,136.62 326.22,136.02 323.87,135.18 321.76,134.13 319.89,132.86 318.27,131.39 316.93,129.72 315.88,127.87 315.11,125.83 314.65,123.57 314.50,120.80 314.65,118.03 315.11,115.77 315.88,113.73 316.93,111.88 318.27,110.21 319.89,108.74 321.76,107.47 323.87,106.42 326.22,105.58 328.81,104.98 331.68,104.62 335.20,104.50 338.72,104.62 341.59,104.98 344.18,105.58 346.53,106.42 348.64,107.47 350.51,108.74 352.13,110.21 353.47,111.88 354.52,113.73 355.29,115.77 355.75,118.03" fill="#00fca8" />
<polygon points="351.50,121.30 351.37,123.31 350.99,125.05 350.37,126.65 349.50,128.12 348.41,129.45 347.09,130.64 345.58,131.67 343.88,132.53 342.01,133.21 339.97,133.70 337.76,134.00 335.20,134.10 332.64,134.00 330.43,133.70 328.39,133.21 326.52,132.53 324.82,131.67 323.31,130.64 321.99,129.45 320.90,128.12 320.03,126.65 319.41,125.05 319.03,123.31 318.90,121.30 319.03,119.29 319.41,117.55 320.03,115.95 320.90,114.48 321.99,113.15 323.31,111.96 324.82,110.93 326.52,110.07 328.39,109.39 330.43,108.90 332.64,108.60 335.20,108.50 337.76,108.60 339.97,108.90 342.01,109.39 343.88,110.07 345.58,110.93 347.09,111.96 348.41,113.15 349.50,114.48 350.37,115.95 350.99,117.55 351.37,119.29" fill="#00ffff" />
<ellipse cx="336.20" cy="130.60" rx="5.00" ry="6.00" fill="#00ffff" />
<ellipse cx="335.20" cy="121.60" rx="12.60" ry="9.30" transform="rotate(8 335.20 121.60)" fill="#00a2ff" />
<ellipse cx="335.20" cy="121.60" rx="9.00" ry="6.70" transform="rotate(8 335.20 121.60)" fill="#0000ff" />
<ellipse cx="285.00" cy="149.00" rx="7.50" ry="10.60" fill="#00ffc8" />
<ellipse cx="384.70" cy="124.60" rx="5.60" ry="8.80" fill="#b4ff00" />
<path d="M297.60 99V173.8 M305.10 99V173.8 M312.60 99V173.8 M356.50 99V173.8 M364.80 99V173.8 M372.80 99V173.8" stroke="#004000" stroke-width="0.6" stroke-opacity="0.5" fill="none"/>
<rect x="313.90" y="116.60" width="41.40" height="40.10" fill="none" stroke="#003000" stroke-width="0.5" stroke-opacity="0.5" stroke-dasharray="0.8 0.5"/>
<rect x="285" y="169.30" width="0.9" height="4.5" fill="#d8f000" opacity="0.85"/>
<rect x="287.60" y="171.60" width="0.8" height="1.2" fill="#002040" opacity="0.6"/>
</g>
<text x="286.30" y="109.60" font-size="10.3" font-weight="normal" font-family="'Liberation Serif',serif" fill="#000" stroke="#000" stroke-width="0.2">(2)</text>
<g clip-path="url(#c10)">
<rect x="394.6" y="99" width="102.70" height="74.20" fill="#00ff00"/>
<polygon points="469.70,135.90 469.57,143.38 469.19,147.23 468.55,150.26 467.65,152.78 466.49,154.92 465.06,156.73 463.34,158.24 461.30,159.45 458.89,160.40 456.00,161.07 452.33,161.47 445.20,161.60 438.07,161.47 434.40,161.07 431.51,160.40 429.10,159.45 427.06,158.24 425.34,156.73 423.91,154.92 422.75,152.78 421.85,150.26 421.21,147.23 420.83,143.38 420.70,135.90 420.83,128.42 421.21,124.57 421.85,121.54 422.75,119.02 423.91,116.88 425.34,115.07 427.06,113.56 429.10,112.35 431.51,111.40 434.40,110.73 438.07,110.33 445.20,110.20 452.33,110.33 456.00,110.73 458.89,111.40 461.30,112.35 463.34,113.56 465.06,115.07 466.49,116.88 467.65,119.02 468.55,121.54 469.19,124.57 469.57,128.42" fill="#00fca8" />
<polygon points="464.00,135.90 463.87,139.59 463.49,142.28 462.85,144.62 461.96,146.70 460.82,148.54 459.45,150.15 457.84,151.52 456.00,152.66 453.92,153.55 451.58,154.19 448.89,154.57 445.20,154.70 441.51,154.57 438.82,154.19 436.48,153.55 434.40,152.66 432.56,151.52 430.95,150.15 429.58,148.54 428.44,146.70 427.55,144.62 426.91,142.28 426.53,139.59 426.40,135.90 426.53,132.21 426.91,129.52 427.55,127.18 428.44,125.10 429.58,123.26 430.95,121.65 432.56,120.28 434.40,119.14 436.48,118.25 438.82,117.61 441.51,117.23 445.20,117.10 448.89,117.23 451.58,117.61 453.92,118.25 456.00,119.14 457.84,120.28 459.45,121.65 460.82,123.26 461.96,125.10 462.85,127.18 463.49,129.52 463.87,132.21" fill="#00ffff" />
<ellipse cx="445.20" cy="135.90" rx="13.90" ry="14.70" fill="#5aaaf0" />
<ellipse cx="445.20" cy="135.90" rx="11.00" ry="11.60" fill="#6e8ee0" />
<ellipse cx="445.20" cy="135.90" rx="8.60" ry="9.60" fill="#0000f0" />
<polygon points="412.00,135.80 411.88,140.82 411.52,144.48 410.93,147.67 410.11,150.50 409.06,153.01 407.79,155.20 406.30,157.07 404.59,158.62 402.67,159.83 400.50,160.70 398.01,161.22 394.60,161.40 391.19,161.22 388.70,160.70 386.53,159.83 384.61,158.62 382.90,157.07 381.41,155.20 380.14,153.01 379.09,150.50 378.27,147.67 377.68,144.48 377.32,140.82 377.20,135.80 377.32,130.78 377.68,127.12 378.27,123.93 379.09,121.10 380.14,118.59 381.41,116.40 382.90,114.53 384.61,112.98 386.53,111.77 388.70,110.90 391.19,110.38 394.60,110.20 398.01,110.38 400.50,110.90 402.67,111.77 404.59,112.98 406.30,114.53 407.79,116.40 409.06,118.59 410.11,121.10 410.93,123.93 411.52,127.12 411.88,130.78" fill="#b4ff00" />
<polygon points="402.90,134.70 402.84,137.80 402.67,140.06 402.39,142.03 402.00,143.77 401.50,145.32 400.89,146.67 400.18,147.83 399.37,148.78 398.45,149.53 397.41,150.07 396.23,150.39 394.60,150.50 392.97,150.39 391.79,150.07 390.75,149.53 389.83,148.78 389.02,147.83 388.31,146.67 387.70,145.32 387.20,143.77 386.81,142.03 386.53,140.06 386.36,137.80 386.30,134.70 386.36,131.60 386.53,129.34 386.81,127.37 387.20,125.63 387.70,124.08 388.31,122.73 389.02,121.57 389.83,120.62 390.75,119.87 391.79,119.33 392.97,119.01 394.60,118.90 396.23,119.01 397.41,119.33 398.45,119.87 399.37,120.62 400.18,121.57 400.89,122.73 401.50,124.08 402.00,125.63 402.39,127.37 402.67,129.34 402.84,131.60" fill="#ffff00" />
<polygon points="514.20,136.50 514.08,141.60 513.74,145.32 513.16,148.56 512.36,151.43 511.34,153.98 510.11,156.20 508.66,158.10 507.01,159.67 505.14,160.90 503.03,161.79 500.61,162.32 497.30,162.50 493.99,162.32 491.57,161.79 489.46,160.90 487.59,159.67 485.94,158.10 484.49,156.20 483.26,153.98 482.24,151.43 481.44,148.56 480.86,145.32 480.52,141.60 480.40,136.50 480.52,131.40 480.86,127.68 481.44,124.44 482.24,121.57 483.26,119.02 484.49,116.80 485.94,114.90 487.59,113.33 489.46,112.10 491.57,111.21 493.99,110.68 497.30,110.50 500.61,110.68 503.03,111.21 505.14,112.10 507.01,113.33 508.66,114.90 510.11,116.80 511.34,119.02 512.36,121.57 513.16,124.44 513.74,127.68 514.08,131.40" fill="#b4ff00" />
<polygon points="504.80,136.80 504.75,140.10 504.59,142.50 504.34,144.59 503.98,146.45 503.53,148.09 502.98,149.53 502.34,150.76 501.61,151.77 500.78,152.57 499.84,153.14 498.77,153.48 497.30,153.60 495.83,153.48 494.76,153.14 493.82,152.57 492.99,151.77 492.26,150.76 491.62,149.53 491.07,148.09 490.62,146.45 490.26,144.59 490.01,142.50 489.85,140.10 489.80,136.80 489.85,133.50 490.01,131.10 490.26,129.01 490.62,127.15 491.07,125.51 491.62,124.07 492.26,122.84 492.99,121.83 493.82,121.03 494.76,120.46 495.83,120.12 497.30,120.00 498.77,120.12 499.84,120.46 500.78,121.03 501.61,121.83 502.34,122.84 502.98,124.07 503.53,125.51 503.98,127.15 504.34,129.01 504.59,131.10 504.75,133.50" fill="#ffff00" />
<path d="M407.00 99V173.2 M414.40 99V173.2 M423.10 99V173.2 M468.40 99V173.2 M477.60 99V173.2 M485.40 99V173.2" stroke="#004000" stroke-width="0.6" stroke-opacity="0.5" fill="none"/>
<rect x="424.90" y="115.60" width="42.40" height="40.30" fill="none" stroke="#004000" stroke-width="0.5" stroke-opacity="0.55" stroke-dasharray="0.8 0.5"/>
<rect x="436.20" y="132.00" width="18.00" height="7.60" rx="3.80" fill="#00ff00" transform="rotate(-3 445.2 135.8)"/>
<rect x="437.30" y="132.80" width="15.80" height="6.00" rx="3.00" fill="#ffff00" transform="rotate(-3 445.2 135.8)"/>
<rect x="438.80" y="133.60" width="12.80" height="4.40" rx="2.20" fill="#ffaa00" transform="rotate(-3 445.2 135.8)"/>
<rect x="440.45" y="134.50" width="9.50" height="2.60" rx="1.30" fill="#ff0000" transform="rotate(-3 445.2 135.8)"/>
</g>
<text x="395.30" y="110.00" font-size="10.3" font-weight="normal" font-family="'Liberation Serif',serif" fill="#000" stroke="#000" stroke-width="0.2">(4)</text>
<rect x="504.9" y="107.40" width="9.80" height="4.0" fill="#0000ff" stroke="#808080" stroke-width="0.3"/>
<rect x="504.9" y="112.86" width="9.80" height="4.0" fill="#00a2ff" stroke="#808080" stroke-width="0.3"/>
<rect x="504.9" y="118.32" width="9.80" height="4.0" fill="#00ffff" stroke="#808080" stroke-width="0.3"/>
<rect x="504.9" y="123.78" width="9.80" height="4.0" fill="#00fca8" stroke="#808080" stroke-width="0.3"/>
<rect x="504.9" y="129.24" width="9.80" height="4.0" fill="#00ff00" stroke="#808080" stroke-width="0.3"/>
<rect x="504.9" y="134.70" width="9.80" height="4.0" fill="#b4ff00" stroke="#808080" stroke-width="0.3"/>
<rect x="504.9" y="140.16" width="9.80" height="4.0" fill="#ffff00" stroke="#808080" stroke-width="0.3"/>
<rect x="504.9" y="145.62" width="9.80" height="4.0" fill="#ffaa00" stroke="#808080" stroke-width="0.3"/>
<rect x="504.9" y="151.08" width="9.80" height="4.0" fill="#ff0000" stroke="#808080" stroke-width="0.3"/>
<text x="13.70" y="188.40" font-size="10" font-weight="bold" font-family="'Liberation Serif',serif" fill="#000" stroke="#000" stroke-width="0">(c)</text>
<g clip-path="url(#c11)">
<rect x="10" y="194" width="101.00" height="80.00" fill="#0000ff"/>
<path d="M18.80 194V274 M28.10 194V274 M37.10 194V274 M84.00 194V274 M93.30 194V274 M101.60 194V274" stroke="#000070" stroke-width="0.5" stroke-opacity="0.4" fill="none"/>
<rect x="37.60" y="212.10" width="46.40" height="43.20" fill="none" stroke="#000050" stroke-width="0.5" stroke-opacity="0.6" stroke-dasharray="0.8 0.5"/>
<circle cx="60.3" cy="233.9" r="20" fill="url(#g12)"/>
<path d="M65.90 233.90L80.30 233.90M65.87 234.45L80.20 235.86M65.79 234.99L79.92 237.80M65.66 235.53L79.44 239.71M65.47 236.04L78.78 241.55M65.24 236.54L77.94 243.33M64.96 237.01L76.93 245.01M64.63 237.45L75.76 246.59M64.26 237.86L74.44 248.04M63.85 238.23L72.99 249.36M63.41 238.56L71.41 250.53M62.94 238.84L69.73 251.54M62.44 239.07L67.95 252.38M61.93 239.26L66.11 253.04M61.39 239.39L64.20 253.52M60.85 239.47L62.26 253.80M60.30 239.50L60.30 253.90M59.75 239.47L58.34 253.80M59.21 239.39L56.40 253.52M58.67 239.26L54.49 253.04M58.16 239.07L52.65 252.38M57.66 238.84L50.87 251.54M57.19 238.56L49.19 250.53M56.75 238.23L47.61 249.36M56.34 237.86L46.16 248.04M55.97 237.45L44.84 246.59M55.64 237.01L43.67 245.01M55.36 236.54L42.66 243.33M55.13 236.04L41.82 241.55M54.94 235.53L41.16 239.71M54.81 234.99L40.68 237.80M54.73 234.45L40.40 235.86M54.70 233.90L40.30 233.90M54.73 233.35L40.40 231.94M54.81 232.81L40.68 230.00M54.94 232.27L41.16 228.09M55.13 231.76L41.82 226.25M55.36 231.26L42.66 224.47M55.64 230.79L43.67 222.79M55.97 230.35L44.84 221.21M56.34 229.94L46.16 219.76M56.75 229.57L47.61 218.44M57.19 229.24L49.19 217.27M57.66 228.96L50.87 216.26M58.16 228.73L52.65 215.42M58.67 228.54L54.49 214.76M59.21 228.41L56.40 214.28M59.75 228.33L58.34 214.00M60.30 228.30L60.30 213.90M60.85 228.33L62.26 214.00M61.39 228.41L64.20 214.28M61.93 228.54L66.11 214.76M62.44 228.73L67.95 215.42M62.94 228.96L69.73 216.26M63.41 229.24L71.41 217.27M63.85 229.57L72.99 218.44M64.26 229.94L74.44 219.76M64.63 230.35L75.76 221.21M64.96 230.79L76.93 222.79M65.24 231.26L77.94 224.47M65.47 231.76L78.78 226.25M65.66 232.27L79.44 228.09M65.79 232.81L79.92 230.00M65.87 233.35L80.20 231.94" stroke="#dcdcff" stroke-width="0.4" stroke-opacity="0.65" fill="none"/>
<ellipse cx="60.30" cy="233.90" rx="7.00" ry="7.00" fill="#0000e0" />
<ellipse cx="60.30" cy="233.90" rx="5.80" ry="5.80" fill="#00a2ff" />
<ellipse cx="60.30" cy="233.90" rx="5.20" ry="5.20" fill="#00ffff" />
<ellipse cx="60.30" cy="233.90" rx="4.50" ry="4.50" fill="#00ff00" />
<ellipse cx="60.30" cy="233.90" rx="3.50" ry="3.50" fill="#ffff00" />
<ellipse cx="60.30" cy="233.90" rx="2.70" ry="2.70" fill="#ffaa00" />
<ellipse cx="60.30" cy="233.90" rx="2.00" ry="2.00" fill="#ff0000" />
<rect x="10" y="269.50" width="0.9" height="4.5" fill="#d8f000" opacity="0.85"/>
<rect x="12.60" y="271.80" width="0.8" height="1.2" fill="#002040" opacity="0.6"/>
</g>
<text x="12.60" y="207.40" font-size="10.3" font-weight="normal" font-family="'Liberation Serif',serif" fill="#000" stroke="#000" stroke-width="0.2">(1)</text>
<g clip-path="url(#c13)">
<rect x="120.3" y="194" width="100.70" height="80.20" fill="#00ffff"/>
<polygon points="199.50,233.10 199.32,239.38 198.80,243.43 197.92,246.83 196.69,249.77 195.12,252.34 193.19,254.55 190.93,256.42 188.29,257.96 185.27,259.16 181.79,260.01 177.64,260.53 171.20,260.70 164.76,260.53 160.61,260.01 157.13,259.16 154.11,257.96 151.47,256.42 149.21,254.55 147.28,252.34 145.71,249.77 144.48,246.83 143.60,243.43 143.08,239.38 142.90,233.10 143.08,226.82 143.60,222.77 144.48,219.37 145.71,216.43 147.28,213.86 149.21,211.65 151.47,209.78 154.11,208.24 157.13,207.04 160.61,206.19 164.76,205.67 171.20,205.50 177.64,205.67 181.79,206.19 185.27,207.04 188.29,208.24 190.93,209.78 193.19,211.65 195.12,213.86 196.69,216.43 197.92,219.37 198.80,222.77 199.32,226.82" fill="#00fca8" />
<polygon points="193.30,233.10 193.15,237.65 192.72,240.81 191.99,243.51 190.99,245.89 189.70,247.98 188.13,249.80 186.29,251.34 184.17,252.62 181.76,253.61 179.01,254.33 175.81,254.76 171.20,254.90 166.59,254.76 163.39,254.33 160.64,253.61 158.23,252.62 156.11,251.34 154.27,249.80 152.70,247.98 151.41,245.89 150.41,243.51 149.68,240.81 149.25,237.65 149.10,233.10 149.25,228.55 149.68,225.39 150.41,222.69 151.41,220.31 152.70,218.22 154.27,216.40 156.11,214.86 158.23,213.58 160.64,212.59 163.39,211.87 166.59,211.44 171.20,211.30 175.81,211.44 179.01,211.87 181.76,212.59 184.17,213.58 186.29,214.86 188.13,216.40 189.70,218.22 190.99,220.31 191.99,222.69 192.72,225.39 193.15,228.55" fill="#00ff00" />
<polygon points="189.20,233.10 189.07,236.28 188.68,238.80 188.03,241.05 187.13,243.08 185.98,244.90 184.60,246.50 183.00,247.88 181.18,249.03 179.15,249.93 176.90,250.58 174.38,250.97 171.20,251.10 168.02,250.97 165.50,250.58 163.25,249.93 161.22,249.03 159.40,247.88 157.80,246.50 156.42,244.90 155.27,243.08 154.37,241.05 153.72,238.80 153.33,236.28 153.20,233.10 153.33,229.92 153.72,227.40 154.37,225.15 155.27,223.12 156.42,221.30 157.80,219.70 159.40,218.32 161.22,217.17 163.25,216.27 165.50,215.62 168.02,215.23 171.20,215.10 174.38,215.23 176.90,215.62 179.15,216.27 181.18,217.17 183.00,218.32 184.60,219.70 185.98,221.30 187.13,223.12 188.03,225.15 188.68,227.40 189.07,229.92" fill="#b4ff00" />
<polygon points="186.50,233.10 186.38,235.40 186.01,237.45 185.41,239.36 184.58,241.13 183.54,242.74 182.28,244.18 180.84,245.44 179.23,246.48 177.46,247.31 175.55,247.91 173.50,248.28 171.20,248.40 168.90,248.28 166.85,247.91 164.94,247.31 163.17,246.48 161.56,245.44 160.12,244.18 158.86,242.74 157.82,241.13 156.99,239.36 156.39,237.45 156.02,235.40 155.90,233.10 156.02,230.80 156.39,228.75 156.99,226.84 157.82,225.07 158.86,223.46 160.12,222.02 161.56,220.76 163.17,219.72 164.94,218.89 166.85,218.29 168.90,217.92 171.20,217.80 173.50,217.92 175.55,218.29 177.46,218.89 179.23,219.72 180.84,220.76 182.28,222.02 183.54,223.46 184.58,225.07 185.41,226.84 186.01,228.75 186.38,230.80" fill="#ffff00" />
<ellipse cx="171.20" cy="233.10" rx="12.00" ry="12.00" fill="#ffaa00" />
<ellipse cx="171.20" cy="233.10" rx="8.20" ry="8.20" fill="#ff0000" />
<polygon points="132.80,234.40 132.70,238.88 132.42,242.64 131.95,246.07 131.30,249.20 130.48,252.03 129.49,254.54 128.34,256.70 127.05,258.51 125.62,259.94 124.06,260.97 122.35,261.59 120.30,261.80 118.25,261.59 116.54,260.97 114.98,259.94 113.55,258.51 112.26,256.70 111.11,254.54 110.12,252.03 109.30,249.20 108.65,246.07 108.18,242.64 107.90,238.88 107.80,234.40 107.90,229.92 108.18,226.16 108.65,222.73 109.30,219.60 110.12,216.77 111.11,214.26 112.26,212.10 113.55,210.29 114.98,208.86 116.54,207.83 118.25,207.21 120.30,207.00 122.35,207.21 124.06,207.83 125.62,208.86 127.05,210.29 128.34,212.10 129.49,214.26 130.48,216.77 131.30,219.60 131.95,222.73 132.42,226.16 132.70,229.92" fill="#00a2ff" />
<polygon points="125.20,233.60 125.16,235.92 125.05,237.87 124.87,239.65 124.61,241.27 124.29,242.73 123.90,244.04 123.45,245.16 122.95,246.10 122.39,246.84 121.77,247.37 121.10,247.69 120.30,247.80 119.50,247.69 118.83,247.37 118.21,246.84 117.65,246.10 117.15,245.16 116.70,244.04 116.31,242.73 115.99,241.27 115.73,239.65 115.55,237.87 115.44,235.92 115.40,233.60 115.44,231.28 115.55,229.33 115.73,227.55 115.99,225.93 116.31,224.47 116.70,223.16 117.15,222.04 117.65,221.10 118.21,220.36 118.83,219.83 119.50,219.51 120.30,219.40 121.10,219.51 121.77,219.83 122.39,220.36 122.95,221.10 123.45,222.04 123.90,223.16 124.29,224.47 124.61,225.93 124.87,227.55 125.05,229.33 125.16,231.28" fill="#0000ff" />
<polygon points="233.80,235.70 233.70,240.12 233.41,243.82 232.93,247.20 232.26,250.28 231.42,253.07 230.41,255.54 229.23,257.68 227.91,259.46 226.45,260.87 224.85,261.88 223.09,262.49 221.00,262.70 218.91,262.49 217.15,261.88 215.55,260.87 214.09,259.46 212.77,257.68 211.59,255.54 210.58,253.07 209.74,250.28 209.07,247.20 208.59,243.82 208.30,240.12 208.20,235.70 208.30,231.28 208.59,227.58 209.07,224.20 209.74,221.12 210.58,218.33 211.59,215.86 212.77,213.72 214.09,211.94 215.55,210.53 217.15,209.52 218.91,208.91 221.00,208.70 223.09,208.91 224.85,209.52 226.45,210.53 227.91,211.94 229.23,213.72 230.41,215.86 231.42,218.33 232.26,221.12 232.93,224.20 233.41,227.58 233.70,231.28" fill="#00a2ff" />
<polygon points="225.70,235.20 225.66,237.61 225.56,239.62 225.38,241.46 225.14,243.14 224.83,244.66 224.45,246.00 224.02,247.17 223.54,248.14 223.00,248.90 222.41,249.45 221.77,249.79 221.00,249.90 220.23,249.79 219.59,249.45 219.00,248.90 218.46,248.14 217.98,247.17 217.55,246.00 217.17,244.66 216.86,243.14 216.62,241.46 216.44,239.62 216.34,237.61 216.30,235.20 216.34,232.79 216.44,230.78 216.62,228.94 216.86,227.26 217.17,225.74 217.55,224.40 217.98,223.23 218.46,222.26 219.00,221.50 219.59,220.95 220.23,220.61 221.00,220.50 221.77,220.61 222.41,220.95 223.00,221.50 223.54,222.26 224.02,223.23 224.45,224.40 224.83,225.74 225.14,227.26 225.38,228.94 225.56,230.78 225.66,232.79" fill="#0000ff" />
<path d="M130.70 194V274.2 M140.10 194V274.2 M147.70 194V274.2 M194.50 194V274.2 M202.80 194V274.2 M210.90 194V274.2" stroke="#004848" stroke-width="0.6" stroke-opacity="0.5" fill="none"/>
<rect x="149.40" y="211.80" width="42.50" height="43.60" fill="none" stroke="#003838" stroke-width="0.5" stroke-opacity="0.5" stroke-dasharray="0.8 0.5"/>
<rect x="171.00" y="232.50" width="1.6" height="0.6" fill="#500" opacity="0.7"/>
<rect x="120.3" y="269.70" width="0.9" height="4.5" fill="#d8f000" opacity="0.85"/>
<rect x="122.90" y="272.00" width="0.8" height="1.2" fill="#002040" opacity="0.6"/>
</g>
<text x="122.80" y="204.80" font-size="10.3" font-weight="normal" font-family="'Liberation Serif',serif" fill="#000" stroke="#000" stroke-width="0.2">(3)</text>
<g clip-path="url(#c14)">
<rect x="10.9" y="281" width="99.50" height="79.50" fill="#00ffff"/>
<polygon points="89.30,320.10 89.12,326.38 88.60,330.43 87.72,333.83 86.49,336.77 84.92,339.34 82.99,341.55 80.73,343.42 78.09,344.96 75.07,346.16 71.59,347.01 67.44,347.53 61.00,347.70 54.56,347.53 50.41,347.01 46.93,346.16 43.91,344.96 41.27,343.42 39.01,341.55 37.08,339.34 35.51,336.77 34.28,333.83 33.40,330.43 32.88,326.38 32.70,320.10 32.88,313.82 33.40,309.77 34.28,306.37 35.51,303.43 37.08,300.86 39.01,298.65 41.27,296.78 43.91,295.24 46.93,294.04 50.41,293.19 54.56,292.67 61.00,292.50 67.44,292.67 71.59,293.19 75.07,294.04 78.09,295.24 80.73,296.78 82.99,298.65 84.92,300.86 86.49,303.43 87.72,306.37 88.60,309.77 89.12,313.82" fill="#00fca8" />
<polygon points="83.10,320.10 82.95,324.65 82.52,327.81 81.79,330.51 80.79,332.89 79.50,334.98 77.93,336.80 76.09,338.34 73.97,339.62 71.56,340.61 68.81,341.33 65.61,341.76 61.00,341.90 56.39,341.76 53.19,341.33 50.44,340.61 48.03,339.62 45.91,338.34 44.07,336.80 42.50,334.98 41.21,332.89 40.21,330.51 39.48,327.81 39.05,324.65 38.90,320.10 39.05,315.55 39.48,312.39 40.21,309.69 41.21,307.31 42.50,305.22 44.07,303.40 45.91,301.86 48.03,300.58 50.44,299.59 53.19,298.87 56.39,298.44 61.00,298.30 65.61,298.44 68.81,298.87 71.56,299.59 73.97,300.58 76.09,301.86 77.93,303.40 79.50,305.22 80.79,307.31 81.79,309.69 82.52,312.39 82.95,315.55" fill="#00ff00" />
<polygon points="79.00,320.10 78.87,323.28 78.48,325.80 77.83,328.05 76.93,330.08 75.78,331.90 74.40,333.50 72.80,334.88 70.98,336.03 68.95,336.93 66.70,337.58 64.18,337.97 61.00,338.10 57.82,337.97 55.30,337.58 53.05,336.93 51.02,336.03 49.20,334.88 47.60,333.50 46.22,331.90 45.07,330.08 44.17,328.05 43.52,325.80 43.13,323.28 43.00,320.10 43.13,316.92 43.52,314.40 44.17,312.15 45.07,310.12 46.22,308.30 47.60,306.70 49.20,305.32 51.02,304.17 53.05,303.27 55.30,302.62 57.82,302.23 61.00,302.10 64.18,302.23 66.70,302.62 68.95,303.27 70.98,304.17 72.80,305.32 74.40,306.70 75.78,308.30 76.93,310.12 77.83,312.15 78.48,314.40 78.87,316.92" fill="#b4ff00" />
<polygon points="76.30,320.10 76.18,322.40 75.81,324.45 75.21,326.36 74.38,328.13 73.34,329.74 72.08,331.18 70.64,332.44 69.03,333.48 67.26,334.31 65.35,334.91 63.30,335.28 61.00,335.40 58.70,335.28 56.65,334.91 54.74,334.31 52.97,333.48 51.36,332.44 49.92,331.18 48.66,329.74 47.62,328.13 46.79,326.36 46.19,324.45 45.82,322.40 45.70,320.10 45.82,317.80 46.19,315.75 46.79,313.84 47.62,312.07 48.66,310.46 49.92,309.02 51.36,307.76 52.97,306.72 54.74,305.89 56.65,305.29 58.70,304.92 61.00,304.80 63.30,304.92 65.35,305.29 67.26,305.89 69.03,306.72 70.64,307.76 72.08,309.02 73.34,310.46 74.38,312.07 75.21,313.84 75.81,315.75 76.18,317.80" fill="#ffff00" />
<ellipse cx="61.00" cy="320.10" rx="12.00" ry="12.00" fill="#ffaa00" />
<ellipse cx="61.00" cy="320.10" rx="8.20" ry="8.20" fill="#ff0000" />
<polygon points="22.90,321.70 22.81,326.12 22.54,329.82 22.08,333.20 21.46,336.28 20.67,339.07 19.72,341.54 18.62,343.68 17.38,345.46 16.01,346.87 14.51,347.88 12.86,348.49 10.90,348.70 8.94,348.49 7.29,347.88 5.79,346.87 4.42,345.46 3.18,343.68 2.08,341.54 1.13,339.07 0.34,336.28 -0.28,333.20 -0.74,329.82 -1.01,326.12 -1.10,321.70 -1.01,317.28 -0.74,313.58 -0.28,310.20 0.34,307.12 1.13,304.33 2.08,301.86 3.18,299.72 4.42,297.94 5.79,296.53 7.29,295.52 8.94,294.91 10.90,294.70 12.86,294.91 14.51,295.52 16.01,296.53 17.38,297.94 18.62,299.72 19.72,301.86 20.67,304.33 21.46,307.12 22.08,310.20 22.54,313.58 22.81,317.28" fill="#00a2ff" />
<polygon points="15.30,321.00 15.27,323.29 15.17,325.21 15.00,326.96 14.77,328.56 14.48,330.01 14.13,331.29 13.73,332.40 13.28,333.32 12.77,334.05 12.22,334.58 11.62,334.89 10.90,335.00 10.18,334.89 9.58,334.58 9.03,334.05 8.52,333.32 8.07,332.40 7.67,331.29 7.32,330.01 7.03,328.56 6.80,326.96 6.63,325.21 6.53,323.29 6.50,321.00 6.53,318.71 6.63,316.79 6.80,315.04 7.03,313.44 7.32,311.99 7.67,310.71 8.07,309.60 8.52,308.68 9.03,307.95 9.58,307.42 10.18,307.11 10.90,307.00 11.62,307.11 12.22,307.42 12.77,307.95 13.28,308.68 13.73,309.60 14.13,310.71 14.48,311.99 14.77,313.44 15.00,315.04 15.17,316.79 15.27,318.71" fill="#0000ff" />
<polygon points="122.60,322.50 122.51,326.92 122.23,330.62 121.77,334.00 121.14,337.08 120.33,339.87 119.37,342.34 118.25,344.48 116.99,346.26 115.59,347.67 114.07,348.68 112.40,349.29 110.40,349.50 108.40,349.29 106.73,348.68 105.21,347.67 103.81,346.26 102.55,344.48 101.43,342.34 100.47,339.87 99.66,337.08 99.03,334.00 98.57,330.62 98.29,326.92 98.20,322.50 98.29,318.08 98.57,314.38 99.03,311.00 99.66,307.92 100.47,305.13 101.43,302.66 102.55,300.52 103.81,298.74 105.21,297.33 106.73,296.32 108.40,295.71 110.40,295.50 112.40,295.71 114.07,296.32 115.59,297.33 116.99,298.74 118.25,300.52 119.37,302.66 120.33,305.13 121.14,307.92 121.77,311.00 122.23,314.38 122.51,318.08" fill="#00a2ff" />
<polygon points="114.80,322.00 114.77,324.37 114.67,326.36 114.50,328.17 114.27,329.83 113.98,331.33 113.63,332.66 113.23,333.80 112.78,334.76 112.27,335.51 111.72,336.06 111.12,336.39 110.40,336.50 109.68,336.39 109.08,336.06 108.53,335.51 108.02,334.76 107.57,333.80 107.17,332.66 106.82,331.33 106.53,329.83 106.30,328.17 106.13,326.36 106.03,324.37 106.00,322.00 106.03,319.63 106.13,317.64 106.30,315.83 106.53,314.17 106.82,312.67 107.17,311.34 107.57,310.20 108.02,309.24 108.53,308.49 109.08,307.94 109.68,307.61 110.40,307.50 111.12,307.61 111.72,307.94 112.27,308.49 112.78,309.24 113.23,310.20 113.63,311.34 113.98,312.67 114.27,314.17 114.50,315.83 114.67,317.64 114.77,319.63" fill="#0000ff" />
<path d="M20.70 281V360.5 M30.10 281V360.5 M37.70 281V360.5 M84.10 281V360.5 M92.80 281V360.5 M100.90 281V360.5" stroke="#004848" stroke-width="0.6" stroke-opacity="0.5" fill="none"/>
<rect x="39.40" y="298.80" width="42.50" height="43.60" fill="none" stroke="#003838" stroke-width="0.5" stroke-opacity="0.5" stroke-dasharray="0.8 0.5"/>
<rect x="60.80" y="319.50" width="1.6" height="0.6" fill="#500" opacity="0.7"/>
<rect x="10.9" y="356.00" width="0.9" height="4.5" fill="#d8f000" opacity="0.85"/>
<rect x="13.50" y="358.30" width="0.8" height="1.2" fill="#002040" opacity="0.6"/>
</g>
<text x="11.90" y="291.80" font-size="10.3" font-weight="normal" font-family="'Liberation Serif',serif" fill="#000" stroke="#000" stroke-width="0.2">(2)</text>
<g clip-path="url(#c15)">
<rect x="120" y="280.6" width="101.00" height="78.40" fill="#ffff00"/>
<path d="M147.90 284.40Q171.05 285.00 194.20 284.40Q204.20 284.40 204.20 294.40L204.20 345.40Q204.20 355.40 194.20 355.40L147.90 355.40Q137.90 355.40 137.90 345.40L137.90 294.40Q137.90 284.40 147.90 284.40Z" fill="#b4ff00"/>
<polygon points="197.30,319.60 197.16,327.17 196.75,331.06 196.06,334.13 195.10,336.68 193.84,338.85 192.30,340.67 190.44,342.20 188.24,343.43 185.65,344.38 182.54,345.06 178.59,345.46 170.90,345.60 163.21,345.46 159.26,345.06 156.15,344.38 153.56,343.43 151.36,342.20 149.50,340.67 147.96,338.85 146.70,336.68 145.74,334.13 145.05,331.06 144.64,327.17 144.50,319.60 144.64,312.03 145.05,308.14 145.74,305.07 146.70,302.52 147.96,300.35 149.50,298.53 151.36,297.00 153.56,295.77 156.15,294.82 159.26,294.14 163.21,293.74 170.90,293.60 178.59,293.74 182.54,294.14 185.65,294.82 188.24,295.77 190.44,297.00 192.30,298.53 193.84,300.35 195.10,302.52 196.06,305.07 196.75,308.14 197.16,312.03" fill="#00ff00" />
<polygon points="193.50,319.60 193.36,324.81 192.95,328.09 192.26,330.83 191.29,333.19 190.06,335.24 188.54,337.01 186.75,338.50 184.67,339.72 182.28,340.67 179.51,341.35 176.18,341.76 170.90,341.90 165.62,341.76 162.29,341.35 159.52,340.67 157.13,339.72 155.05,338.50 153.26,337.01 151.74,335.24 150.51,333.19 149.54,330.83 148.85,328.09 148.44,324.81 148.30,319.60 148.44,314.39 148.85,311.11 149.54,308.37 150.51,306.01 151.74,303.96 153.26,302.19 155.05,300.70 157.13,299.48 159.52,298.53 162.29,297.85 165.62,297.44 170.90,297.30 176.18,297.44 179.51,297.85 182.28,298.53 184.67,299.48 186.75,300.70 188.54,302.19 190.06,303.96 191.29,306.01 192.26,308.37 192.95,311.11 193.36,314.39" fill="#00fca8" />
<polygon points="189.50,319.60 189.36,322.73 188.95,325.28 188.26,327.58 187.31,329.67 186.11,331.55 184.66,333.21 182.98,334.65 181.08,335.84 178.97,336.78 176.64,337.45 174.07,337.86 170.90,338.00 167.73,337.86 165.16,337.45 162.83,336.78 160.72,335.84 158.82,334.65 157.14,333.21 155.69,331.55 154.49,329.67 153.54,327.58 152.85,325.28 152.44,322.73 152.30,319.60 152.44,316.47 152.85,313.92 153.54,311.62 154.49,309.53 155.69,307.65 157.14,305.99 158.82,304.55 160.72,303.36 162.83,302.42 165.16,301.75 167.73,301.34 170.90,301.20 174.07,301.34 176.64,301.75 178.97,302.42 181.08,303.36 182.98,304.55 184.66,305.99 186.11,307.65 187.31,309.53 188.26,311.62 188.95,313.92 189.36,316.47" fill="#00ffff" />
<ellipse cx="170.90" cy="319.60" rx="13.70" ry="13.50" fill="#5aaaf0" />
<ellipse cx="170.90" cy="319.60" rx="10.50" ry="10.00" fill="#6e8ee0" />
<ellipse cx="170.90" cy="319.60" rx="8.20" ry="7.00" fill="#0000f0" />
<polygon points="130.20,319.00 130.12,322.68 129.88,325.85 129.49,328.77 128.95,331.46 128.26,333.90 127.44,336.08 126.50,337.96 125.43,339.53 124.26,340.77 122.99,341.67 121.60,342.22 120.00,342.40 118.40,342.22 117.01,341.67 115.74,340.77 114.57,339.53 113.50,337.96 112.56,336.08 111.74,333.90 111.05,331.46 110.51,328.77 110.12,325.85 109.88,322.68 109.80,319.00 109.88,315.32 110.12,312.15 110.51,309.23 111.05,306.54 111.74,304.10 112.56,301.92 113.50,300.04 114.57,298.47 115.74,297.23 117.01,296.33 118.40,295.78 120.00,295.60 121.60,295.78 122.99,296.33 124.26,297.23 125.43,298.47 126.50,300.04 127.44,301.92 128.26,304.10 128.95,306.54 129.49,309.23 129.88,312.15 130.12,315.32" fill="#ffaa00" />
<polygon points="123.30,319.00 123.27,320.79 123.20,322.34 123.07,323.76 122.90,325.07 122.67,326.26 122.41,327.32 122.10,328.24 121.76,329.00 121.38,329.61 120.97,330.05 120.52,330.31 120.00,330.40 119.48,330.31 119.03,330.05 118.62,329.61 118.24,329.00 117.90,328.24 117.59,327.32 117.33,326.26 117.10,325.07 116.93,323.76 116.80,322.34 116.73,320.79 116.70,319.00 116.73,317.21 116.80,315.66 116.93,314.24 117.10,312.93 117.33,311.74 117.59,310.68 117.90,309.76 118.24,309.00 118.62,308.39 119.03,307.95 119.48,307.69 120.00,307.60 120.52,307.69 120.97,307.95 121.38,308.39 121.76,309.00 122.10,309.76 122.41,310.68 122.67,311.74 122.90,312.93 123.07,314.24 123.20,315.66 123.27,317.21" fill="#ff0000" />
<polygon points="230.60,319.50 230.53,323.11 230.30,326.23 229.93,329.10 229.42,331.75 228.78,334.15 228.01,336.28 227.11,338.14 226.11,339.68 225.01,340.90 223.81,341.79 222.51,342.32 221.00,342.50 219.49,342.32 218.19,341.79 216.99,340.90 215.89,339.68 214.89,338.14 213.99,336.28 213.22,334.15 212.58,331.75 212.07,329.10 211.70,326.23 211.47,323.11 211.40,319.50 211.47,315.89 211.70,312.77 212.07,309.90 212.58,307.25 213.22,304.85 213.99,302.72 214.89,300.86 215.89,299.32 216.99,298.10 218.19,297.21 219.49,296.68 221.00,296.50 222.51,296.68 223.81,297.21 225.01,298.10 226.11,299.32 227.11,300.86 228.01,302.72 228.78,304.85 229.42,307.25 229.93,309.90 230.30,312.77 230.53,315.89" fill="#ffaa00" />
<polygon points="223.60,319.50 223.58,321.07 223.52,322.43 223.42,323.68 223.28,324.83 223.11,325.87 222.90,326.80 222.66,327.60 222.38,328.27 222.09,328.81 221.76,329.19 221.41,329.42 221.00,329.50 220.59,329.42 220.24,329.19 219.91,328.81 219.62,328.27 219.34,327.60 219.10,326.80 218.89,325.87 218.72,324.83 218.58,323.68 218.48,322.43 218.42,321.07 218.40,319.50 218.42,317.93 218.48,316.57 218.58,315.32 218.72,314.17 218.89,313.13 219.10,312.20 219.34,311.40 219.62,310.73 219.91,310.19 220.24,309.81 220.59,309.58 221.00,309.50 221.41,309.58 221.76,309.81 222.09,310.19 222.38,310.73 222.66,311.40 222.90,312.20 223.11,313.13 223.28,314.17 223.42,315.32 223.52,316.57 223.58,317.93" fill="#ff0000" />
<path d="M129.80 280.6V359 M137.90 280.6V359 M147.70 280.6V359 M194.50 280.6V359 M204.30 280.6V359 M211.90 280.6V359" stroke="#3a3a00" stroke-width="0.6" stroke-opacity="0.5" fill="none"/>
<rect x="149.90" y="298.80" width="42.40" height="41.80" fill="none" stroke="#303000" stroke-width="0.5" stroke-opacity="0.55" stroke-dasharray="0.8 0.5"/>
<rect x="163.15" y="316.05" width="15.90" height="7.40" rx="3.70" fill="#00ff00" transform="rotate(-8 171.1 319.75)"/>
<rect x="163.90" y="316.90" width="14.40" height="5.70" rx="2.85" fill="#ffff00" transform="rotate(-8 171.1 319.75)"/>
<rect x="165.10" y="317.95" width="12.00" height="3.60" rx="1.80" fill="#ffaa00" transform="rotate(-8 171.1 319.75)"/>
<rect x="166.60" y="318.95" width="9.00" height="1.60" rx="0.80" fill="#ff0000" transform="rotate(-8 171.1 319.75)"/>
</g>
<text x="122.50" y="292.10" font-size="10.3" font-weight="normal" font-family="'Liberation Serif',serif" fill="#000" stroke="#000" stroke-width="0.2">(4)</text>
<rect x="226.8" y="295.00" width="9.40" height="4.0" fill="#0000ff" stroke="#808080" stroke-width="0.3"/>
<rect x="226.8" y="300.23" width="9.40" height="4.0" fill="#00a2ff" stroke="#808080" stroke-width="0.3"/>
<rect x="226.8" y="305.46" width="9.40" height="4.0" fill="#00ffff" stroke="#808080" stroke-width="0.3"/>
<rect x="226.8" y="310.69" width="9.40" height="4.0" fill="#00fca8" stroke="#808080" stroke-width="0.3"/>
<rect x="226.8" y="315.92" width="9.40" height="4.0" fill="#00ff00" stroke="#808080" stroke-width="0.3"/>
<rect x="226.8" y="321.15" width="9.40" height="4.0" fill="#b4ff00" stroke="#808080" stroke-width="0.3"/>
<rect x="226.8" y="326.38" width="9.40" height="4.0" fill="#ffff00" stroke="#808080" stroke-width="0.3"/>
<rect x="226.8" y="331.61" width="9.40" height="4.0" fill="#ffaa00" stroke="#808080" stroke-width="0.3"/>
<rect x="226.8" y="336.84" width="9.40" height="4.0" fill="#ff0000" stroke="#808080" stroke-width="0.3"/>
<text x="284.80" y="187.70" font-size="10.3" font-weight="normal" font-family="'Liberation Serif',serif" fill="#000" stroke="#000" stroke-width="0.12">(d)</text>
<g clip-path="url(#c16)">
<rect x="280" y="192" width="106.00" height="79.80" fill="#0000ff"/>
<path d="M292.60 192V271.8 M302.10 192V271.8 M310.10 192V271.8 M356.50 192V271.8 M365.30 192V271.8 M374.10 192V271.8" stroke="#000070" stroke-width="0.5" stroke-opacity="0.4" fill="none"/>
<rect x="310.10" y="210.10" width="45.20" height="43.20" fill="none" stroke="#000050" stroke-width="0.5" stroke-opacity="0.6" stroke-dasharray="0.8 0.5"/>
<circle cx="333.2" cy="231.9" r="19.4" fill="url(#g17)"/>
<path d="M338.32 231.90L352.60 231.90M338.30 232.40L352.51 233.80M338.22 232.90L352.23 235.68M338.10 233.39L351.76 237.53M337.93 233.86L351.12 239.32M337.72 234.31L350.31 241.05M337.46 234.74L349.33 242.68M337.16 235.15L348.20 244.21M336.82 235.52L346.92 245.62M336.45 235.86L345.51 246.90M336.04 236.16L343.98 248.03M335.61 236.42L342.35 249.01M335.16 236.63L340.62 249.82M334.69 236.80L338.83 250.46M334.20 236.92L336.98 250.93M333.70 237.00L335.10 251.21M333.20 237.02L333.20 251.30M332.70 237.00L331.30 251.21M332.20 236.92L329.42 250.93M331.71 236.80L327.57 250.46M331.24 236.63L325.78 249.82M330.79 236.42L324.05 249.01M330.36 236.16L322.42 248.03M329.95 235.86L320.89 246.90M329.58 235.52L319.48 245.62M329.24 235.15L318.20 244.21M328.94 234.74L317.07 242.68M328.68 234.31L316.09 241.05M328.47 233.86L315.28 239.32M328.30 233.39L314.64 237.53M328.18 232.90L314.17 235.68M328.10 232.40L313.89 233.80M328.08 231.90L313.80 231.90M328.10 231.40L313.89 230.00M328.18 230.90L314.17 228.12M328.30 230.41L314.64 226.27M328.47 229.94L315.28 224.48M328.68 229.49L316.09 222.75M328.94 229.06L317.07 221.12M329.24 228.65L318.20 219.59M329.58 228.28L319.48 218.18M329.95 227.94L320.89 216.90M330.36 227.64L322.42 215.77M330.79 227.38L324.05 214.79M331.24 227.17L325.78 213.98M331.71 227.00L327.57 213.34M332.20 226.88L329.42 212.87M332.70 226.80L331.30 212.59M333.20 226.78L333.20 212.50M333.70 226.80L335.10 212.59M334.20 226.88L336.98 212.87M334.69 227.00L338.83 213.34M335.16 227.17L340.62 213.98M335.61 227.38L342.35 214.79M336.04 227.64L343.98 215.77M336.45 227.94L345.51 216.90M336.82 228.28L346.92 218.18M337.16 228.65L348.20 219.59M337.46 229.06L349.33 221.12M337.72 229.49L350.31 222.75M337.93 229.94L351.12 224.48M338.10 230.41L351.76 226.27M338.22 230.90L352.23 228.12M338.30 231.40L352.51 230.00" stroke="#dcdcff" stroke-width="0.4" stroke-opacity="0.36" fill="none"/>
<ellipse cx="333.20" cy="231.40" rx="7.17" ry="6.40" transform="rotate(-20 333.20 231.40)" fill="#0000f4" />
<ellipse cx="333.20" cy="231.40" rx="6.05" ry="5.40" transform="rotate(-20 333.20 231.40)" fill="#00a2ff" />
<ellipse cx="333.20" cy="231.40" rx="5.49" ry="4.90" transform="rotate(-20 333.20 231.40)" fill="#00ffff" />
<ellipse cx="333.20" cy="231.40" rx="4.70" ry="4.20" transform="rotate(-20 333.20 231.40)" fill="#00ff00" />
<ellipse cx="333.20" cy="231.40" rx="3.58" ry="3.20" transform="rotate(-20 333.20 231.40)" fill="#ffff00" />
<ellipse cx="333.20" cy="231.40" rx="2.69" ry="2.40" transform="rotate(-20 333.20 231.40)" fill="#ffaa00" />
<ellipse cx="333.20" cy="231.40" rx="1.79" ry="1.60" transform="rotate(-20 333.20 231.40)" fill="#ff0000" />
<rect x="280" y="267.30" width="0.9" height="4.5" fill="#d8f000" opacity="0.85"/>
<rect x="282.60" y="269.60" width="0.8" height="1.2" fill="#002040" opacity="0.6"/>
</g>
<text x="283.70" y="203.50" font-size="10.3" font-weight="normal" font-family="'Liberation Serif',serif" fill="#000" stroke="#000" stroke-width="0.2">(1)</text>
<g clip-path="url(#c18)">
<rect x="397.6" y="191" width="98.40" height="79.60" fill="#00ffff"/>
<polygon points="473.20,230.60 473.04,236.79 472.55,240.78 471.74,244.13 470.61,247.03 469.16,249.56 467.39,251.74 465.29,253.59 462.87,255.10 460.08,256.28 456.87,257.12 453.04,257.63 447.10,257.80 441.16,257.63 437.33,257.12 434.12,256.28 431.33,255.10 428.91,253.59 426.81,251.74 425.04,249.56 423.59,247.03 422.46,244.13 421.65,240.78 421.16,236.79 421.00,230.60 421.16,224.41 421.65,220.42 422.46,217.07 423.59,214.17 425.04,211.64 426.81,209.46 428.91,207.61 431.33,206.10 434.12,204.92 437.33,204.08 441.16,203.57 447.10,203.40 453.04,203.57 456.87,204.08 460.08,204.92 462.87,206.10 465.29,207.61 467.39,209.46 469.16,211.64 470.61,214.17 471.74,217.07 472.55,220.42 473.04,224.41" fill="#00fca8" />
<polygon points="468.50,230.60 468.36,235.07 467.94,238.17 467.24,240.82 466.26,243.16 465.01,245.21 463.49,246.99 461.71,248.51 459.66,249.76 457.32,250.74 454.67,251.44 451.57,251.86 447.10,252.00 442.63,251.86 439.53,251.44 436.88,250.74 434.54,249.76 432.49,248.51 430.71,246.99 429.19,245.21 427.94,243.16 426.96,240.82 426.26,238.17 425.84,235.07 425.70,230.60 425.84,226.13 426.26,223.03 426.96,220.38 427.94,218.04 429.19,215.99 430.71,214.21 432.49,212.69 434.54,211.44 436.88,210.46 439.53,209.76 442.63,209.34 447.10,209.20 451.57,209.34 454.67,209.76 457.32,210.46 459.66,211.44 461.71,212.69 463.49,214.21 465.01,215.99 466.26,218.04 467.24,220.38 467.94,223.03 468.36,226.13" fill="#00ff00" />
<polygon points="464.30,230.60 464.17,233.64 463.80,236.04 463.18,238.19 462.32,240.14 461.22,241.87 459.91,243.41 458.37,244.72 456.64,245.82 454.69,246.68 452.54,247.30 450.14,247.67 447.10,247.80 444.06,247.67 441.66,247.30 439.51,246.68 437.56,245.82 435.83,244.72 434.29,243.41 432.98,241.87 431.88,240.14 431.02,238.19 430.40,236.04 430.03,233.64 429.90,230.60 430.03,227.56 430.40,225.16 431.02,223.01 431.88,221.06 432.98,219.33 434.29,217.79 435.83,216.48 437.56,215.38 439.51,214.52 441.66,213.90 444.06,213.53 447.10,213.40 450.14,213.53 452.54,213.90 454.69,214.52 456.64,215.38 458.37,216.48 459.91,217.79 461.22,219.33 462.32,221.06 463.18,223.01 463.80,225.16 464.17,227.56" fill="#b4ff00" />
<polygon points="461.60,230.60 461.48,232.78 461.14,234.72 460.57,236.53 459.78,238.21 458.79,239.74 457.60,241.10 456.24,242.29 454.71,243.28 453.03,244.07 451.22,244.64 449.28,244.98 447.10,245.10 444.92,244.98 442.98,244.64 441.17,244.07 439.49,243.28 437.96,242.29 436.60,241.10 435.41,239.74 434.42,238.21 433.63,236.53 433.06,234.72 432.72,232.78 432.60,230.60 432.72,228.42 433.06,226.48 433.63,224.67 434.42,222.99 435.41,221.46 436.60,220.10 437.96,218.91 439.49,217.92 441.17,217.13 442.98,216.56 444.92,216.22 447.10,216.10 449.28,216.22 451.22,216.56 453.03,217.13 454.71,217.92 456.24,218.91 457.60,220.10 458.79,221.46 459.78,222.99 460.57,224.67 461.14,226.48 461.48,228.42" fill="#ffff00" />
<ellipse cx="447.10" cy="230.60" rx="11.40" ry="11.40" fill="#ffaa00" />
<ellipse cx="447.10" cy="230.60" rx="8.00" ry="8.00" fill="#ff0000" />
<polygon points="412.90,229.00 412.78,233.91 412.44,238.02 411.86,241.77 411.06,245.20 410.05,248.30 408.84,251.05 407.44,253.42 405.86,255.40 404.11,256.96 402.20,258.09 400.10,258.77 397.60,259.00 395.10,258.77 393.00,258.09 391.09,256.96 389.34,255.40 387.76,253.42 386.36,251.05 385.15,248.30 384.14,245.20 383.34,241.77 382.76,238.02 382.42,233.91 382.30,229.00 382.42,224.09 382.76,219.98 383.34,216.23 384.14,212.80 385.15,209.70 386.36,206.95 387.76,204.58 389.34,202.60 391.09,201.04 393.00,199.91 395.10,199.23 397.60,199.00 400.10,199.23 402.20,199.91 404.11,201.04 405.86,202.60 407.44,204.58 408.84,206.95 410.05,209.70 411.06,212.80 411.86,216.23 412.44,219.98 412.78,224.09" fill="#00a2ff" />
<polygon points="405.20,229.00 405.14,231.95 404.97,234.41 404.68,236.66 404.29,238.72 403.79,240.58 403.18,242.23 402.49,243.65 401.70,244.84 400.84,245.78 399.89,246.45 398.84,246.86 397.60,247.00 396.36,246.86 395.31,246.45 394.36,245.78 393.50,244.84 392.71,243.65 392.02,242.23 391.41,240.58 390.91,238.72 390.52,236.66 390.23,234.41 390.06,231.95 390.00,229.00 390.06,226.05 390.23,223.59 390.52,221.34 390.91,219.28 391.41,217.42 392.02,215.77 392.71,214.35 393.50,213.16 394.36,212.22 395.31,211.55 396.36,211.14 397.60,211.00 398.84,211.14 399.89,211.55 400.84,212.22 401.70,213.16 402.49,214.35 403.18,215.77 403.79,217.42 404.29,219.28 404.68,221.34 404.97,223.59 405.14,226.05" fill="#0000ff" />
<polygon points="511.70,232.00 511.58,236.75 511.22,240.72 510.63,244.35 509.82,247.66 508.78,250.66 507.54,253.31 506.10,255.61 504.48,257.52 502.68,259.03 500.72,260.12 498.57,260.78 496.00,261.00 493.43,260.78 491.28,260.12 489.32,259.03 487.52,257.52 485.90,255.61 484.46,253.31 483.22,250.66 482.18,247.66 481.37,244.35 480.78,240.72 480.42,236.75 480.30,232.00 480.42,227.25 480.78,223.28 481.37,219.65 482.18,216.34 483.22,213.34 484.46,210.69 485.90,208.39 487.52,206.48 489.32,204.97 491.28,203.88 493.43,203.22 496.00,203.00 498.57,203.22 500.72,203.88 502.68,204.97 504.48,206.48 506.10,208.39 507.54,210.69 508.78,213.34 509.82,216.34 510.63,219.65 511.22,223.28 511.58,227.25" fill="#00a2ff" />
<polygon points="503.00,232.80 502.95,235.65 502.79,238.03 502.52,240.21 502.16,242.20 501.70,243.99 501.14,245.59 500.50,246.96 499.78,248.11 498.98,249.02 498.11,249.67 497.15,250.07 496.00,250.20 494.85,250.07 493.89,249.67 493.02,249.02 492.22,248.11 491.50,246.96 490.86,245.59 490.30,243.99 489.84,242.20 489.48,240.21 489.21,238.03 489.05,235.65 489.00,232.80 489.05,229.95 489.21,227.57 489.48,225.39 489.84,223.40 490.30,221.61 490.86,220.01 491.50,218.64 492.22,217.49 493.02,216.58 493.89,215.93 494.85,215.53 496.00,215.40 497.15,215.53 498.11,215.93 498.98,216.58 499.78,217.49 500.50,218.64 501.14,220.01 501.70,221.61 502.16,223.40 502.52,225.39 502.79,227.57 502.95,229.95" fill="#0000ff" />
<path d="M409.20 191V270.6 M417.90 191V270.6 M425.30 191V270.6 M468.40 191V270.6 M476.10 191V270.6 M483.70 191V270.6" stroke="#004848" stroke-width="0.6" stroke-opacity="0.5" fill="none"/>
<rect x="427.00" y="209.90" width="39.30" height="42.00" fill="none" stroke="#003838" stroke-width="0.5" stroke-opacity="0.5" stroke-dasharray="0.8 0.5"/>
<rect x="446.90" y="230.00" width="1.6" height="0.6" fill="#500" opacity="0.7"/>
<rect x="397.6" y="266.10" width="0.9" height="4.5" fill="#d8f000" opacity="0.85"/>
<rect x="400.20" y="268.40" width="0.8" height="1.2" fill="#002040" opacity="0.6"/>
</g>
<text x="400.10" y="203.00" font-size="10.3" font-weight="normal" font-family="'Liberation Serif',serif" fill="#000" stroke="#000" stroke-width="0.2">(3)</text>
<g clip-path="url(#c19)">
<rect x="281" y="278.8" width="106.20" height="79.20" fill="#00ffff"/>
<polygon points="361.90,317.50 361.73,323.69 361.22,327.68 360.38,331.03 359.20,333.93 357.69,336.46 355.84,338.64 353.66,340.49 351.13,342.00 348.23,343.18 344.88,344.02 340.89,344.53 334.70,344.70 328.51,344.53 324.52,344.02 321.17,343.18 318.27,342.00 315.74,340.49 313.56,338.64 311.71,336.46 310.20,333.93 309.02,331.03 308.18,327.68 307.67,323.69 307.50,317.50 307.67,311.31 308.18,307.32 309.02,303.97 310.20,301.07 311.71,298.54 313.56,296.36 315.74,294.51 318.27,293.00 321.17,291.82 324.52,290.98 328.51,290.47 334.70,290.30 340.89,290.47 344.88,290.98 348.23,291.82 351.13,293.00 353.66,294.51 355.84,296.36 357.69,298.54 359.20,301.07 360.38,303.97 361.22,307.32 361.73,311.31" fill="#00fca8" />
<polygon points="356.40,317.50 356.26,321.99 355.83,325.10 355.12,327.77 354.13,330.11 352.86,332.18 351.32,333.97 349.51,335.49 347.43,336.75 345.06,337.73 342.37,338.43 339.23,338.86 334.70,339.00 330.17,338.86 327.03,338.43 324.34,337.73 321.97,336.75 319.89,335.49 318.08,333.97 316.54,332.18 315.27,330.11 314.28,327.77 313.57,325.10 313.14,321.99 313.00,317.50 313.14,313.01 313.57,309.90 314.28,307.23 315.27,304.89 316.54,302.82 318.08,301.03 319.89,299.51 321.97,298.25 324.34,297.27 327.03,296.57 330.17,296.14 334.70,296.00 339.23,296.14 342.37,296.57 345.06,297.27 347.43,298.25 349.51,299.51 351.32,301.03 352.86,302.82 354.13,304.89 355.12,307.23 355.83,309.90 356.26,313.01" fill="#00ff00" />
<polygon points="352.50,317.50 352.37,320.65 351.98,323.13 351.34,325.36 350.45,327.37 349.32,329.17 347.95,330.75 346.37,332.12 344.57,333.25 342.56,334.14 340.33,334.78 337.85,335.17 334.70,335.30 331.55,335.17 329.07,334.78 326.84,334.14 324.83,333.25 323.03,332.12 321.45,330.75 320.08,329.17 318.95,327.37 318.06,325.36 317.42,323.13 317.03,320.65 316.90,317.50 317.03,314.35 317.42,311.87 318.06,309.64 318.95,307.63 320.08,305.83 321.45,304.25 323.03,302.88 324.83,301.75 326.84,300.86 329.07,300.22 331.55,299.83 334.70,299.70 337.85,299.83 340.33,300.22 342.56,300.86 344.57,301.75 346.37,302.88 347.95,304.25 349.32,305.83 350.45,307.63 351.34,309.64 351.98,311.87 352.37,314.35" fill="#b4ff00" />
<polygon points="349.50,317.50 349.38,319.73 349.03,321.71 348.45,323.56 347.65,325.27 346.63,326.83 345.42,328.22 344.03,329.43 342.47,330.45 340.76,331.25 338.91,331.83 336.93,332.18 334.70,332.30 332.47,332.18 330.49,331.83 328.64,331.25 326.93,330.45 325.37,329.43 323.98,328.22 322.77,326.83 321.75,325.27 320.95,323.56 320.37,321.71 320.02,319.73 319.90,317.50 320.02,315.27 320.37,313.29 320.95,311.44 321.75,309.73 322.77,308.17 323.98,306.78 325.37,305.57 326.93,304.55 328.64,303.75 330.49,303.17 332.47,302.82 334.70,302.70 336.93,302.82 338.91,303.17 340.76,303.75 342.47,304.55 344.03,305.57 345.42,306.78 346.63,308.17 347.65,309.73 348.45,311.44 349.03,313.29 349.38,315.27" fill="#ffff00" />
<ellipse cx="334.70" cy="317.50" rx="11.50" ry="11.50" fill="#ffaa00" />
<ellipse cx="334.70" cy="317.50" rx="8.00" ry="8.00" fill="#ff0000" />
<polygon points="297.80,318.00 297.67,322.73 297.29,326.69 296.66,330.31 295.78,333.61 294.68,336.59 293.35,339.24 291.81,341.53 290.07,343.43 288.15,344.94 286.05,346.02 283.75,346.68 281.00,346.90 278.25,346.68 275.95,346.02 273.85,344.94 271.93,343.43 270.19,341.53 268.65,339.24 267.32,336.59 266.22,333.61 265.34,330.31 264.71,326.69 264.33,322.73 264.20,318.00 264.33,313.27 264.71,309.31 265.34,305.69 266.22,302.39 267.32,299.41 268.65,296.76 270.19,294.47 271.93,292.57 273.85,291.06 275.95,289.98 278.25,289.32 281.00,289.10 283.75,289.32 286.05,289.98 288.15,291.06 290.07,292.57 291.81,294.47 293.35,296.76 294.68,299.41 295.78,302.39 296.66,305.69 297.29,309.31 297.67,313.27" fill="#00a2ff" />
<polygon points="289.50,316.40 289.44,319.43 289.24,321.96 288.92,324.28 288.48,326.39 287.92,328.30 287.25,330.00 286.47,331.46 285.59,332.68 284.62,333.64 283.56,334.34 282.39,334.76 281.00,334.90 279.61,334.76 278.44,334.34 277.38,333.64 276.41,332.68 275.53,331.46 274.75,330.00 274.08,328.30 273.52,326.39 273.08,324.28 272.76,321.96 272.56,319.43 272.50,316.40 272.56,313.37 272.76,310.84 273.08,308.52 273.52,306.41 274.08,304.50 274.75,302.80 275.53,301.34 276.41,300.12 277.38,299.16 278.44,298.46 279.61,298.04 281.00,297.90 282.39,298.04 283.56,298.46 284.62,299.16 285.59,300.12 286.47,301.34 287.25,302.80 287.92,304.50 288.48,306.41 288.92,308.52 289.24,310.84 289.44,313.37" fill="#0000ff" />
<polygon points="403.70,319.70 403.57,324.51 403.20,328.54 402.58,332.22 401.72,335.58 400.63,338.61 399.33,341.31 397.81,343.63 396.11,345.57 394.23,347.10 392.16,348.21 389.90,348.88 387.20,349.10 384.50,348.88 382.24,348.21 380.17,347.10 378.29,345.57 376.59,343.63 375.07,341.31 373.77,338.61 372.68,335.58 371.82,332.22 371.20,328.54 370.83,324.51 370.70,319.70 370.83,314.89 371.20,310.86 371.82,307.18 372.68,303.82 373.77,300.79 375.07,298.09 376.59,295.77 378.29,293.83 380.17,292.30 382.24,291.19 384.50,290.52 387.20,290.30 389.90,290.52 392.16,291.19 394.23,292.30 396.11,293.83 397.81,295.77 399.33,298.09 400.63,300.79 401.72,303.82 402.58,307.18 403.20,310.86 403.57,314.89" fill="#00a2ff" />
<polygon points="395.00,320.20 394.94,323.15 394.76,325.61 394.47,327.86 394.06,329.92 393.55,331.78 392.93,333.43 392.22,334.85 391.41,336.04 390.52,336.98 389.55,337.65 388.48,338.06 387.20,338.20 385.92,338.06 384.85,337.65 383.88,336.98 382.99,336.04 382.18,334.85 381.47,333.43 380.85,331.78 380.34,329.92 379.93,327.86 379.64,325.61 379.46,323.15 379.40,320.20 379.46,317.25 379.64,314.79 379.93,312.54 380.34,310.48 380.85,308.62 381.47,306.97 382.18,305.55 382.99,304.36 383.88,303.42 384.85,302.75 385.92,302.34 387.20,302.20 388.48,302.34 389.55,302.75 390.52,303.42 391.41,304.36 392.22,305.55 392.93,306.97 393.55,308.62 394.06,310.48 394.47,312.54 394.76,314.79 394.94,317.25" fill="#0000ff" />
<path d="M294.40 278.8V358 M303.10 278.8V358 M311.40 278.8V358 M357.60 278.8V358 M365.90 278.8V358 M374.60 278.8V358" stroke="#004848" stroke-width="0.6" stroke-opacity="0.5" fill="none"/>
<rect x="313.60" y="297.20" width="41.80" height="42.50" fill="none" stroke="#003838" stroke-width="0.5" stroke-opacity="0.5" stroke-dasharray="0.8 0.5"/>
<rect x="334.50" y="316.90" width="1.6" height="0.6" fill="#500" opacity="0.7"/>
<rect x="281" y="353.50" width="0.9" height="4.5" fill="#d8f000" opacity="0.85"/>
<rect x="283.60" y="355.80" width="0.8" height="1.2" fill="#002040" opacity="0.6"/>
</g>
<text x="284.00" y="289.30" font-size="10.3" font-weight="normal" font-family="'Liberation Serif',serif" fill="#000" stroke="#000" stroke-width="0.2">(2)</text>
<g clip-path="url(#c20)">
<rect x="396.7" y="279.7" width="99.30" height="78.60" fill="#ffff00"/>
<path d="M425.50 282.90Q446.50 284.10 467.50 282.90Q476.50 282.90 476.50 291.90L476.50 346.40Q476.50 355.40 467.50 355.40L425.50 355.40Q416.50 355.40 416.50 346.40L416.50 291.90Q416.50 282.90 425.50 282.90Z" fill="#b4ff00"/>
<polygon points="470.80,319.40 470.68,327.46 470.32,331.46 469.71,334.57 468.85,337.16 467.74,339.34 466.37,341.18 464.72,342.70 462.76,343.93 460.44,344.89 457.64,345.56 454.04,345.97 446.80,346.10 439.56,345.97 435.96,345.56 433.16,344.89 430.84,343.93 428.88,342.70 427.23,341.18 425.86,339.34 424.75,337.16 423.89,334.57 423.28,331.46 422.92,327.46 422.80,319.40 422.92,311.34 423.28,307.34 423.89,304.23 424.75,301.64 425.86,299.46 427.23,297.62 428.88,296.10 430.84,294.87 433.16,293.91 435.96,293.24 439.56,292.83 446.80,292.70 454.04,292.83 457.64,293.24 460.44,293.91 462.76,294.87 464.72,296.10 466.37,297.62 467.74,299.46 468.85,301.64 469.71,304.23 470.32,307.34 470.68,311.34" fill="#00ff00" />
<polygon points="467.00,319.40 466.87,324.42 466.49,327.74 465.85,330.54 464.96,332.98 463.82,335.12 462.43,336.96 460.79,338.52 458.89,339.81 456.72,340.81 454.22,341.52 451.27,341.96 446.80,342.10 442.33,341.96 439.38,341.52 436.88,340.81 434.71,339.81 432.81,338.52 431.17,336.96 429.78,335.12 428.64,332.98 427.75,330.54 427.11,327.74 426.73,324.42 426.60,319.40 426.73,314.38 427.11,311.06 427.75,308.26 428.64,305.82 429.78,303.68 431.17,301.84 432.81,300.28 434.71,298.99 436.88,297.99 439.38,297.28 442.33,296.84 446.80,296.70 451.27,296.84 454.22,297.28 456.72,297.99 458.89,298.99 460.79,300.28 462.43,301.84 463.82,303.68 464.96,305.82 465.85,308.26 466.49,311.06 466.87,314.38" fill="#00fca8" />
<polygon points="463.20,319.40 463.07,322.29 462.69,324.78 462.06,327.08 461.19,329.20 460.09,331.12 458.77,332.83 457.24,334.31 455.53,335.54 453.65,336.52 451.60,337.23 449.38,337.66 446.80,337.80 444.22,337.66 442.00,337.23 439.95,336.52 438.07,335.54 436.36,334.31 434.83,332.83 433.51,331.12 432.41,329.20 431.54,327.08 430.91,324.78 430.53,322.29 430.40,319.40 430.53,316.51 430.91,314.02 431.54,311.72 432.41,309.60 433.51,307.68 434.83,305.97 436.36,304.49 438.07,303.26 439.95,302.28 442.00,301.57 444.22,301.14 446.80,301.00 449.38,301.14 451.60,301.57 453.65,302.28 455.53,303.26 457.24,304.49 458.77,305.97 460.09,307.68 461.19,309.60 462.06,311.72 462.69,314.02 463.07,316.51" fill="#00ffff" />
<ellipse cx="446.80" cy="319.40" rx="12.40" ry="14.00" fill="#5aaaf0" />
<ellipse cx="446.80" cy="319.40" rx="9.50" ry="10.80" fill="#6e8ee0" />
<ellipse cx="446.80" cy="319.40" rx="7.90" ry="8.60" fill="#0000f0" />
<polygon points="408.70,317.50 408.61,321.27 408.33,324.52 407.87,327.52 407.23,330.28 406.42,332.78 405.46,335.01 404.34,336.95 403.09,338.56 401.71,339.83 400.21,340.76 398.58,341.31 396.70,341.50 394.82,341.31 393.19,340.76 391.69,339.83 390.31,338.56 389.06,336.95 387.94,335.01 386.98,332.78 386.17,330.28 385.53,327.52 385.07,324.52 384.79,321.27 384.70,317.50 384.79,313.73 385.07,310.48 385.53,307.48 386.17,304.72 386.98,302.22 387.94,299.99 389.06,298.05 390.31,296.44 391.69,295.17 393.19,294.24 394.82,293.69 396.70,293.50 398.58,293.69 400.21,294.24 401.71,295.17 403.09,296.44 404.34,298.05 405.46,299.99 406.42,302.22 407.23,304.72 407.87,307.48 408.33,310.48 408.61,313.73" fill="#ffaa00" />
<polygon points="403.70,318.00 403.65,320.48 403.48,322.62 403.21,324.60 402.84,326.41 402.37,328.06 401.81,329.53 401.16,330.80 400.43,331.86 399.62,332.70 398.75,333.31 397.80,333.68 396.70,333.80 395.60,333.68 394.65,333.31 393.78,332.70 392.97,331.86 392.24,330.80 391.59,329.53 391.03,328.06 390.56,326.41 390.19,324.60 389.92,322.62 389.75,320.48 389.70,318.00 389.75,315.52 389.92,313.38 390.19,311.40 390.56,309.59 391.03,307.94 391.59,306.47 392.24,305.20 392.97,304.14 393.78,303.30 394.65,302.69 395.60,302.32 396.70,302.20 397.80,302.32 398.75,302.69 399.62,303.30 400.43,304.14 401.16,305.20 401.81,306.47 402.37,307.94 402.84,309.59 403.21,311.40 403.48,313.38 403.65,315.52" fill="#ff0000" />
<polygon points="508.30,319.00 508.20,322.68 507.92,325.85 507.45,328.77 506.79,331.46 505.97,333.90 504.98,336.08 503.83,337.96 502.55,339.53 501.14,340.77 499.60,341.67 497.93,342.22 496.00,342.40 494.07,342.22 492.40,341.67 490.86,340.77 489.45,339.53 488.17,337.96 487.02,336.08 486.03,333.90 485.21,331.46 484.55,328.77 484.08,325.85 483.80,322.68 483.70,319.00 483.80,315.32 484.08,312.15 484.55,309.23 485.21,306.54 486.03,304.10 487.02,301.92 488.17,300.04 489.45,298.47 490.86,297.23 492.40,296.33 494.07,295.78 496.00,295.60 497.93,295.78 499.60,296.33 501.14,297.23 502.55,298.47 503.83,300.04 504.98,301.92 505.97,304.10 506.79,306.54 507.45,309.23 507.92,312.15 508.20,315.32" fill="#ffaa00" />
<polygon points="502.20,319.00 502.15,321.31 502.01,323.30 501.77,325.14 501.44,326.83 501.02,328.36 500.52,329.73 499.95,330.91 499.30,331.90 498.59,332.68 497.81,333.24 496.97,333.59 496.00,333.70 495.03,333.59 494.19,333.24 493.41,332.68 492.70,331.90 492.05,330.91 491.48,329.73 490.98,328.36 490.56,326.83 490.23,325.14 489.99,323.30 489.85,321.31 489.80,319.00 489.85,316.69 489.99,314.70 490.23,312.86 490.56,311.17 490.98,309.64 491.48,308.27 492.05,307.09 492.70,306.10 493.41,305.32 494.19,304.76 495.03,304.41 496.00,304.30 496.97,304.41 497.81,304.76 498.59,305.32 499.30,306.10 499.95,307.09 500.52,308.27 501.02,309.64 501.44,311.17 501.77,312.86 502.01,314.70 502.15,316.69" fill="#ff0000" />
<path d="M409.20 279.7V358.3 M416.60 279.7V358.3 M424.90 279.7V358.3 M468.00 279.7V358.3 M476.70 279.7V358.3 M484.10 279.7V358.3" stroke="#3a3a00" stroke-width="0.6" stroke-opacity="0.5" fill="none"/>
<rect x="426.60" y="297.90" width="39.70" height="42.00" fill="none" stroke="#303000" stroke-width="0.5" stroke-opacity="0.55" stroke-dasharray="0.8 0.5"/>
<rect x="439.15" y="315.30" width="15.50" height="8.20" rx="4.10" fill="#00ff00" transform="rotate(-10 446.9 319.4)"/>
<rect x="440.40" y="316.30" width="13.00" height="6.20" rx="3.10" fill="#ffff00" transform="rotate(-10 446.9 319.4)"/>
<rect x="441.60" y="317.40" width="10.60" height="4.00" rx="2.00" fill="#ffaa00" transform="rotate(-10 446.9 319.4)"/>
<rect x="443.20" y="318.40" width="7.40" height="2.00" rx="1.00" fill="#ff0000" transform="rotate(-10 446.9 319.4)"/>
</g>
<text x="399.90" y="288.10" font-size="10.3" font-weight="normal" font-family="'Liberation Serif',serif" fill="#000" stroke="#000" stroke-width="0.2">(4)</text>
<rect x="501.8" y="291.10" width="9.50" height="4.0" fill="#0000ff" stroke="#808080" stroke-width="0.3"/>
<rect x="501.8" y="296.68" width="9.50" height="4.0" fill="#00a2ff" stroke="#808080" stroke-width="0.3"/>
<rect x="501.8" y="302.26" width="9.50" height="4.0" fill="#00ffff" stroke="#808080" stroke-width="0.3"/>
<rect x="501.8" y="307.84" width="9.50" height="4.0" fill="#00fca8" stroke="#808080" stroke-width="0.3"/>
<rect x="501.8" y="313.42" width="9.50" height="4.0" fill="#00ff00" stroke="#808080" stroke-width="0.3"/>
<rect x="501.8" y="319.00" width="9.50" height="4.0" fill="#b4ff00" stroke="#808080" stroke-width="0.3"/>
<rect x="501.8" y="324.58" width="9.50" height="4.0" fill="#ffff00" stroke="#808080" stroke-width="0.3"/>
<rect x="501.8" y="330.16" width="9.50" height="4.0" fill="#ffaa00" stroke="#808080" stroke-width="0.3"/>
<rect x="501.8" y="335.74" width="9.50" height="4.0" fill="#ff0000" stroke="#808080" stroke-width="0.3"/>
</g>
<g filter="url(#bl2)">
<text transform="translate(246.6 112.75) scale(0.1)" font-size="43.0" font-family="'Liberation Sans',sans-serif" fill="#1a1a1a" stroke="#1a1a1a" stroke-width="0.7">-1.21358</text>
<text transform="translate(246.6 118.05) scale(0.1)" font-size="43.0" font-family="'Liberation Sans',sans-serif" fill="#1a1a1a" stroke="#1a1a1a" stroke-width="0.7">-1.02292</text>
<text transform="translate(246.6 123.35) scale(0.1)" font-size="43.0" font-family="'Liberation Sans',sans-serif" fill="#1a1a1a" stroke="#1a1a1a" stroke-width="0.7">-0.812265</text>
<text transform="translate(246.6 128.65) scale(0.1)" font-size="43.0" font-family="'Liberation Sans',sans-serif" fill="#1a1a1a" stroke="#1a1a1a" stroke-width="0.7">-0.611608</text>
<text transform="translate(246.6 133.95) scale(0.1)" font-size="43.0" font-family="'Liberation Sans',sans-serif" fill="#1a1a1a" stroke="#1a1a1a" stroke-width="0.7">-0.410951</text>
<text transform="translate(246.6 139.25) scale(0.1)" font-size="43.0" font-family="'Liberation Sans',sans-serif" fill="#1a1a1a" stroke="#1a1a1a" stroke-width="0.7">-0.210293</text>
<text transform="translate(246.6 144.55) scale(0.1)" font-size="43.0" font-family="'Liberation Sans',sans-serif" fill="#1a1a1a" stroke="#1a1a1a" stroke-width="0.7">-0.029886</text>
<text transform="translate(246.6 149.85) scale(0.1)" font-size="43.0" font-family="'Liberation Sans',sans-serif" fill="#1a1a1a" stroke="#1a1a1a" stroke-width="0.7">-0.009636</text>
<text transform="translate(246.6 155.15) scale(0.1)" font-size="43.0" font-family="'Liberation Sans',sans-serif" fill="#1a1a1a" stroke="#1a1a1a" stroke-width="0.7">0.191021</text>
<text transform="translate(246.6 160.45) scale(0.1)" font-size="43.0" font-family="'Liberation Sans',sans-serif" fill="#1a1a1a" stroke="#1a1a1a" stroke-width="0.7">0.592335</text>
<text transform="translate(520.4 105.22) scale(0.1)" font-size="45.0" font-family="'Liberation Sans',sans-serif" fill="#1a1a1a" stroke="#1a1a1a" stroke-width="0.7">-0.832434</text>
<text transform="translate(520.4 110.63) scale(0.1)" font-size="45.0" font-family="'Liberation Sans',sans-serif" fill="#1a1a1a" stroke="#1a1a1a" stroke-width="0.7">-0.656071</text>
<text transform="translate(520.4 116.04) scale(0.1)" font-size="45.0" font-family="'Liberation Sans',sans-serif" fill="#1a1a1a" stroke="#1a1a1a" stroke-width="0.7">-0.479709</text>
<text transform="translate(520.4 121.45) scale(0.1)" font-size="45.0" font-family="'Liberation Sans',sans-serif" fill="#1a1a1a" stroke="#1a1a1a" stroke-width="0.7">-0.303346</text>
<text transform="translate(520.4 126.86) scale(0.1)" font-size="45.0" font-family="'Liberation Sans',sans-serif" fill="#1a1a1a" stroke="#1a1a1a" stroke-width="0.7">-0.126984</text>
<text transform="translate(520.4 132.27) scale(0.1)" font-size="45.0" font-family="'Liberation Sans',sans-serif" fill="#1a1a1a" stroke="#1a1a1a" stroke-width="0.7">0.049379</text>
<text transform="translate(520.4 137.68) scale(0.1)" font-size="45.0" font-family="'Liberation Sans',sans-serif" fill="#1a1a1a" stroke="#1a1a1a" stroke-width="0.7">0.225741</text>
<text transform="translate(520.4 143.09) scale(0.1)" font-size="45.0" font-family="'Liberation Sans',sans-serif" fill="#1a1a1a" stroke="#1a1a1a" stroke-width="0.7">0.402104</text>
<text transform="translate(520.4 148.50) scale(0.1)" font-size="45.0" font-family="'Liberation Sans',sans-serif" fill="#1a1a1a" stroke="#1a1a1a" stroke-width="0.7">0.578466</text>
<text transform="translate(520.4 153.91) scale(0.1)" font-size="45.0" font-family="'Liberation Sans',sans-serif" fill="#1a1a1a" stroke="#1a1a1a" stroke-width="0.7">0.754829</text>
<text transform="translate(241.3 294.35) scale(0.1)" font-size="43.0" font-family="'Liberation Sans',sans-serif" fill="#1a1a1a" stroke="#1a1a1a" stroke-width="0.7">-1.01759</text>
<text transform="translate(241.3 299.81) scale(0.1)" font-size="43.0" font-family="'Liberation Sans',sans-serif" fill="#1a1a1a" stroke="#1a1a1a" stroke-width="0.7">-0.850075</text>
<text transform="translate(241.3 305.27) scale(0.1)" font-size="43.0" font-family="'Liberation Sans',sans-serif" fill="#1a1a1a" stroke="#1a1a1a" stroke-width="0.7">-0.682557</text>
<text transform="translate(241.3 310.73) scale(0.1)" font-size="43.0" font-family="'Liberation Sans',sans-serif" fill="#1a1a1a" stroke="#1a1a1a" stroke-width="0.7">-0.515039</text>
<text transform="translate(241.3 316.19) scale(0.1)" font-size="43.0" font-family="'Liberation Sans',sans-serif" fill="#1a1a1a" stroke="#1a1a1a" stroke-width="0.7">-0.34752</text>
<text transform="translate(241.3 321.65) scale(0.1)" font-size="43.0" font-family="'Liberation Sans',sans-serif" fill="#1a1a1a" stroke="#1a1a1a" stroke-width="0.7">-0.180002</text>
<text transform="translate(241.3 327.11) scale(0.1)" font-size="43.0" font-family="'Liberation Sans',sans-serif" fill="#1a1a1a" stroke="#1a1a1a" stroke-width="0.7">-0.012484</text>
<text transform="translate(241.3 332.57) scale(0.1)" font-size="43.0" font-family="'Liberation Sans',sans-serif" fill="#1a1a1a" stroke="#1a1a1a" stroke-width="0.7">0.155034</text>
<text transform="translate(241.3 338.03) scale(0.1)" font-size="43.0" font-family="'Liberation Sans',sans-serif" fill="#1a1a1a" stroke="#1a1a1a" stroke-width="0.7">0.322553</text>
<text transform="translate(241.3 343.49) scale(0.1)" font-size="43.0" font-family="'Liberation Sans',sans-serif" fill="#1a1a1a" stroke="#1a1a1a" stroke-width="0.7">0.490081</text>
<text transform="translate(517.3 291.57) scale(0.1)" font-size="43.5" font-family="'Liberation Sans',sans-serif" fill="#1a1a1a" stroke="#1a1a1a" stroke-width="0.7">-0.904221</text>
<text transform="translate(517.3 296.90) scale(0.1)" font-size="43.5" font-family="'Liberation Sans',sans-serif" fill="#1a1a1a" stroke="#1a1a1a" stroke-width="0.7">-0.755217</text>
<text transform="translate(517.3 302.23) scale(0.1)" font-size="43.5" font-family="'Liberation Sans',sans-serif" fill="#1a1a1a" stroke="#1a1a1a" stroke-width="0.7">-0.606212</text>
<text transform="translate(517.3 307.56) scale(0.1)" font-size="43.5" font-family="'Liberation Sans',sans-serif" fill="#1a1a1a" stroke="#1a1a1a" stroke-width="0.7">-0.457207</text>
<text transform="translate(517.3 312.89) scale(0.1)" font-size="43.5" font-family="'Liberation Sans',sans-serif" fill="#1a1a1a" stroke="#1a1a1a" stroke-width="0.7">-0.308202</text>
<text transform="translate(517.3 318.22) scale(0.1)" font-size="43.5" font-family="'Liberation Sans',sans-serif" fill="#1a1a1a" stroke="#1a1a1a" stroke-width="0.7">-0.159197</text>
<text transform="translate(517.3 323.55) scale(0.1)" font-size="43.5" font-family="'Liberation Sans',sans-serif" fill="#1a1a1a" stroke="#1a1a1a" stroke-width="0.7">-0.010192</text>
<text transform="translate(517.3 328.88) scale(0.1)" font-size="43.5" font-family="'Liberation Sans',sans-serif" fill="#1a1a1a" stroke="#1a1a1a" stroke-width="0.7">0.138813</text>
<text transform="translate(517.3 334.21) scale(0.1)" font-size="43.5" font-family="'Liberation Sans',sans-serif" fill="#1a1a1a" stroke="#1a1a1a" stroke-width="0.7">0.287818</text>
<text transform="translate(517.3 339.54) scale(0.1)" font-size="43.5" font-family="'Liberation Sans',sans-serif" fill="#1a1a1a" stroke="#1a1a1a" stroke-width="0.7">0.436823</text>
</g>
</svg></body></html>
